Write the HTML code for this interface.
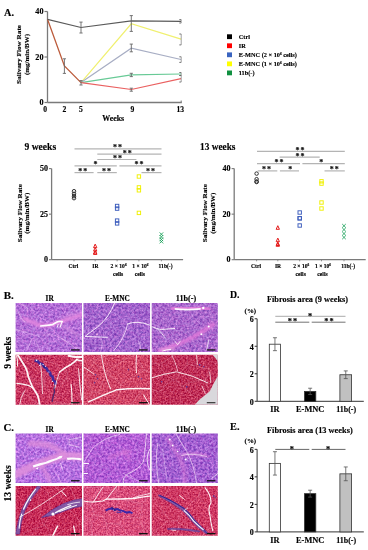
<!DOCTYPE html>
<html><head><meta charset="utf-8"><style>
html,body{margin:0;padding:0;background:#fff;width:368px;height:550px;overflow:hidden}
svg{position:absolute;left:0;top:0;display:block}
text{font-family:'Liberation Serif','Times New Roman',serif;font-weight:bold;stroke:#000;stroke-width:0.14px}
</style></head><body>
<svg width="368" height="550" viewBox="0 0 368 550">
<defs>
<filter id="bl" x="-20%" y="-20%" width="140%" height="140%"><feGaussianBlur stdDeviation="0.5"/></filter>
<filter id="bl2" x="-30%" y="-30%" width="160%" height="160%"><feGaussianBlur stdDeviation="1.0"/></filter>
<clipPath id="hc1"><rect x="15.6" y="303.0" width="66.4" height="49.1"/></clipPath><filter id="tx1" x="0" y="0" width="100%" height="100%" color-interpolation-filters="sRGB"><feTurbulence type="fractalNoise" baseFrequency="0.45" numOctaves="3" seed="7"/><feColorMatrix type="matrix" values="0.55 0.15 0 0 0.348  0.55 -0.05 0 0 0.174  0.35 0.0 0 0 0.664  0 0 0 0 1"/></filter><clipPath id="hc2"><rect x="83.5" y="303.0" width="66.55" height="49.1"/></clipPath><filter id="tx2" x="0" y="0" width="100%" height="100%" color-interpolation-filters="sRGB"><feTurbulence type="fractalNoise" baseFrequency="0.45" numOctaves="3" seed="14"/><feColorMatrix type="matrix" values="0.55 0.15 0 0 0.285  0.55 -0.05 0 0 0.134  0.35 0.0 0 0 0.625  0 0 0 0 1"/></filter><clipPath id="hc3"><rect x="151.7" y="303.0" width="66.1" height="49.1"/></clipPath><filter id="tx3" x="0" y="0" width="100%" height="100%" color-interpolation-filters="sRGB"><feTurbulence type="fractalNoise" baseFrequency="0.45" numOctaves="3" seed="21"/><feColorMatrix type="matrix" values="0.55 0.15 0 0 0.309  0.55 -0.05 0 0 0.150  0.35 0.0 0 0 0.625  0 0 0 0 1"/></filter><clipPath id="hc4"><rect x="15.6" y="354.8" width="66.4" height="50.0"/></clipPath><filter id="tx4" x="0" y="0" width="100%" height="100%" color-interpolation-filters="sRGB"><feTurbulence type="fractalNoise" baseFrequency="0.6" numOctaves="3" seed="28"/><feColorMatrix type="matrix" values="0.45 0.1 0 0 0.509  0.62 0.0 0 0 -0.098  0.5 -0.08 0 0 0.163  0 0 0 0 1"/></filter><clipPath id="hc5"><rect x="83.5" y="354.8" width="66.55" height="50.0"/></clipPath><filter id="tx5" x="0" y="0" width="100%" height="100%" color-interpolation-filters="sRGB"><feTurbulence type="fractalNoise" baseFrequency="0.6" numOctaves="3" seed="35"/><feColorMatrix type="matrix" values="0.45 0.1 0 0 0.541  0.62 0.0 0 0 -0.043  0.5 -0.08 0 0 0.190  0 0 0 0 1"/></filter><clipPath id="hc6"><rect x="151.7" y="354.8" width="66.1" height="50.0"/></clipPath><filter id="tx6" x="0" y="0" width="100%" height="100%" color-interpolation-filters="sRGB"><feTurbulence type="fractalNoise" baseFrequency="0.6" numOctaves="3" seed="42"/><feColorMatrix type="matrix" values="0.45 0.1 0 0 0.478  0.62 0.0 0 0 -0.122  0.5 -0.08 0 0 0.135  0 0 0 0 1"/></filter><clipPath id="hc7"><rect x="15.6" y="433.5" width="66.4" height="49.4"/></clipPath><filter id="tx7" x="0" y="0" width="100%" height="100%" color-interpolation-filters="sRGB"><feTurbulence type="fractalNoise" baseFrequency="0.45" numOctaves="3" seed="49"/><feColorMatrix type="matrix" values="0.55 0.15 0 0 0.360  0.55 -0.05 0 0 0.185  0.35 0.0 0 0 0.700  0 0 0 0 1"/></filter><clipPath id="hc8"><rect x="83.5" y="433.5" width="66.55" height="49.4"/></clipPath><filter id="tx8" x="0" y="0" width="100%" height="100%" color-interpolation-filters="sRGB"><feTurbulence type="fractalNoise" baseFrequency="0.45" numOctaves="3" seed="56"/><feColorMatrix type="matrix" values="0.55 0.15 0 0 0.344  0.55 -0.05 0 0 0.111  0.35 0.0 0 0 0.660  0 0 0 0 1"/></filter><clipPath id="hc9"><rect x="151.7" y="433.5" width="66.1" height="49.4"/></clipPath><filter id="tx9" x="0" y="0" width="100%" height="100%" color-interpolation-filters="sRGB"><feTurbulence type="fractalNoise" baseFrequency="0.45" numOctaves="3" seed="63"/><feColorMatrix type="matrix" values="0.55 0.15 0 0 0.285  0.55 -0.05 0 0 0.119  0.35 0.0 0 0 0.641  0 0 0 0 1"/></filter><clipPath id="hc10"><rect x="15.6" y="486.1" width="66.4" height="49.7"/></clipPath><filter id="tx10" x="0" y="0" width="100%" height="100%" color-interpolation-filters="sRGB"><feTurbulence type="fractalNoise" baseFrequency="0.6" numOctaves="3" seed="70"/><feColorMatrix type="matrix" values="0.45 0.1 0 0 0.501  0.62 0.0 0 0 -0.137  0.5 -0.08 0 0 0.135  0 0 0 0 1"/></filter><clipPath id="hc11"><rect x="83.5" y="486.1" width="66.55" height="49.7"/></clipPath><filter id="tx11" x="0" y="0" width="100%" height="100%" color-interpolation-filters="sRGB"><feTurbulence type="fractalNoise" baseFrequency="0.6" numOctaves="3" seed="77"/><feColorMatrix type="matrix" values="0.45 0.1 0 0 0.572  0.62 0.0 0 0 -0.012  0.5 -0.08 0 0 0.268  0 0 0 0 1"/></filter><clipPath id="hc12"><rect x="151.7" y="486.1" width="66.1" height="49.7"/></clipPath><filter id="tx12" x="0" y="0" width="100%" height="100%" color-interpolation-filters="sRGB"><feTurbulence type="fractalNoise" baseFrequency="0.6" numOctaves="3" seed="84"/><feColorMatrix type="matrix" values="0.45 0.1 0 0 0.533  0.62 0.0 0 0 -0.083  0.5 -0.08 0 0 0.182  0 0 0 0 1"/></filter></defs>
<text x="4" y="15.7" font-size="9.6" text-anchor="start" fill="#000" textLength="10" lengthAdjust="spacingAndGlyphs" >A.</text>
<line x1="47.5" y1="11.5" x2="47.5" y2="102.5" stroke="#7a7a7a" stroke-width="1.3" />
<line x1="47.5" y1="102.5" x2="181.8" y2="102.5" stroke="#7a7a7a" stroke-width="1.3" />
<line x1="44.5" y1="102.5" x2="47.5" y2="102.5" stroke="#7a7a7a" stroke-width="1.2" />
<text x="43.5" y="105.2" font-size="8.2" text-anchor="end" fill="#000" >0</text>
<line x1="44.5" y1="57.0" x2="47.5" y2="57.0" stroke="#7a7a7a" stroke-width="1.2" />
<text x="43.5" y="59.7" font-size="8.2" text-anchor="end" fill="#000" >20</text>
<line x1="44.5" y1="11.5" x2="47.5" y2="11.5" stroke="#7a7a7a" stroke-width="1.2" />
<text x="43.5" y="14.2" font-size="8.2" text-anchor="end" fill="#000" >40</text>
<line x1="181.2" y1="102.5" x2="181.2" y2="100.5" stroke="#7a7a7a" stroke-width="1.0" />
<text x="45.2" y="112.3" font-size="7.6" text-anchor="middle" fill="#000" >0</text>
<text x="64.4" y="112.3" font-size="7.6" text-anchor="middle" fill="#000" >2</text>
<text x="81.0" y="112.3" font-size="7.6" text-anchor="middle" fill="#000" >5</text>
<text x="132.3" y="112.3" font-size="7.6" text-anchor="middle" fill="#000" >9</text>
<text x="180.2" y="112.3" font-size="7.6" text-anchor="middle" fill="#000" >13</text>
<text x="113.2" y="120.5" font-size="7.9" text-anchor="middle" fill="#000" textLength="22" lengthAdjust="spacingAndGlyphs" >Weeks</text>
<g transform="translate(19.5,54.5) rotate(-90)">
<text x="0" y="1.8" font-size="6.4" text-anchor="middle" fill="#000" textLength="59" lengthAdjust="spacingAndGlyphs" >Salivary Flow Rate</text>
<text x="0" y="9.2" font-size="6.4" text-anchor="middle" fill="#000" textLength="41" lengthAdjust="spacingAndGlyphs" >(mg/min/BW)</text>
</g>
<clipPath id="clipA"><rect x="0" y="0" width="181.6" height="110"/></clipPath>
<g clip-path="url(#clipA)">
<polyline points="81.0,82.6 131.3,23.8 181.0,39.1" fill="none" stroke="#f0f070" stroke-width="1.2"/>
<polyline points="81.0,82.6 131.3,48.2 181.0,59.5" fill="none" stroke="#a8aec4" stroke-width="1.2"/>
<polyline points="81.0,82.6 131.3,74.9 181.0,74.0" fill="none" stroke="#68ca96" stroke-width="1.2"/>
<polyline points="81.0,82.6 131.3,89.5 181.0,78.6" fill="none" stroke="#ea6060" stroke-width="1.2"/>
<polyline points="47.5,19.3 64.4,66.0 81.0,82.6" fill="none" stroke="#bc5c3c" stroke-width="1.3"/>
<polyline points="47.5,19.3 81.0,27.5 131.3,20.9 181.0,21.3" fill="none" stroke="#5a5a5a" stroke-width="1.2"/>
<line x1="64.4" y1="58.8" x2="64.4" y2="73.4" stroke="#666" stroke-width="0.9" />
<line x1="62.800000000000004" y1="58.8" x2="66.0" y2="58.8" stroke="#666" stroke-width="0.9" />
<line x1="62.800000000000004" y1="73.4" x2="66.0" y2="73.4" stroke="#666" stroke-width="0.9" />
<line x1="81.0" y1="80.6" x2="81.0" y2="85.0" stroke="#666" stroke-width="0.9" />
<line x1="79.4" y1="80.6" x2="82.6" y2="80.6" stroke="#666" stroke-width="0.9" />
<line x1="79.4" y1="85.0" x2="82.6" y2="85.0" stroke="#666" stroke-width="0.9" />
<line x1="81.0" y1="22.1" x2="81.0" y2="33.0" stroke="#666" stroke-width="0.9" />
<line x1="79.4" y1="22.1" x2="82.6" y2="22.1" stroke="#666" stroke-width="0.9" />
<line x1="79.4" y1="33.0" x2="82.6" y2="33.0" stroke="#666" stroke-width="0.9" />
<line x1="131.3" y1="15.6" x2="131.3" y2="31.4" stroke="#666" stroke-width="0.9" />
<line x1="129.70000000000002" y1="15.6" x2="132.9" y2="15.6" stroke="#666" stroke-width="0.9" />
<line x1="129.70000000000002" y1="31.4" x2="132.9" y2="31.4" stroke="#666" stroke-width="0.9" />
<line x1="131.3" y1="44.1" x2="131.3" y2="51.8" stroke="#666" stroke-width="0.9" />
<line x1="129.70000000000002" y1="44.1" x2="132.9" y2="44.1" stroke="#666" stroke-width="0.9" />
<line x1="129.70000000000002" y1="51.8" x2="132.9" y2="51.8" stroke="#666" stroke-width="0.9" />
<line x1="131.3" y1="73.3" x2="131.3" y2="76.6" stroke="#666" stroke-width="0.9" />
<line x1="129.70000000000002" y1="73.3" x2="132.9" y2="73.3" stroke="#666" stroke-width="0.9" />
<line x1="129.70000000000002" y1="76.6" x2="132.9" y2="76.6" stroke="#666" stroke-width="0.9" />
<line x1="131.3" y1="88.2" x2="131.3" y2="91.2" stroke="#666" stroke-width="0.9" />
<line x1="129.70000000000002" y1="88.2" x2="132.9" y2="88.2" stroke="#666" stroke-width="0.9" />
<line x1="129.70000000000002" y1="91.2" x2="132.9" y2="91.2" stroke="#666" stroke-width="0.9" />
<line x1="181.3" y1="34" x2="181.3" y2="44.9" stroke="#666" stroke-width="0.9" />
<line x1="179.3" y1="34" x2="181.3" y2="34" stroke="#666" stroke-width="0.9" />
<line x1="179.3" y1="44.9" x2="181.3" y2="44.9" stroke="#666" stroke-width="0.9" />
<line x1="181.3" y1="56.8" x2="181.3" y2="62.4" stroke="#666" stroke-width="0.9" />
<line x1="179.3" y1="56.8" x2="181.3" y2="56.8" stroke="#666" stroke-width="0.9" />
<line x1="179.3" y1="62.4" x2="181.3" y2="62.4" stroke="#666" stroke-width="0.9" />
<line x1="181.3" y1="72.5" x2="181.3" y2="75.5" stroke="#666" stroke-width="0.9" />
<line x1="179.3" y1="72.5" x2="181.3" y2="72.5" stroke="#666" stroke-width="0.9" />
<line x1="179.3" y1="75.5" x2="181.3" y2="75.5" stroke="#666" stroke-width="0.9" />
<line x1="181.3" y1="75.5" x2="181.3" y2="82.0" stroke="#666" stroke-width="0.9" />
<line x1="179.3" y1="75.5" x2="181.3" y2="75.5" stroke="#666" stroke-width="0.9" />
<line x1="179.3" y1="82.0" x2="181.3" y2="82.0" stroke="#666" stroke-width="0.9" />
<line x1="181.3" y1="19.6" x2="181.3" y2="23.0" stroke="#666" stroke-width="0.9" />
<line x1="179.3" y1="19.6" x2="181.3" y2="19.6" stroke="#666" stroke-width="0.9" />
<line x1="179.3" y1="23.0" x2="181.3" y2="23.0" stroke="#666" stroke-width="0.9" />
</g>
<rect x="227" y="34.30" width="5" height="4.8" fill="#000000"/>
<text x="238.8" y="38.900000000000006" font-size="6.3" text-anchor="start" fill="#000" >Ctrl</text>
<rect x="227" y="43.35" width="5" height="4.8" fill="#ff0000"/>
<text x="238.8" y="47.95" font-size="6.3" text-anchor="start" fill="#000" >IR</text>
<rect x="227" y="52.40" width="5" height="4.8" fill="#3a64c0"/>
<text x="238.8" y="57.00000000000001" font-size="6.3" text-anchor="start" fill="#000" >E-MNC (2 × 10<tspan font-size="3.4" dy="-2.4">6</tspan><tspan dy="2.4"> cells)</tspan></text>
<rect x="227" y="61.45" width="5" height="4.8" fill="#ffff00"/>
<text x="238.8" y="66.05000000000001" font-size="6.3" text-anchor="start" fill="#000" >E-MNC (1 × 10<tspan font-size="3.4" dy="-2.4">6</tspan><tspan dy="2.4"> cells)</tspan></text>
<rect x="227" y="70.50" width="5" height="4.8" fill="#109040"/>
<text x="238.8" y="75.10000000000001" font-size="6.3" text-anchor="start" fill="#000" >11b(-)</text>
<text x="24.5" y="149.5" font-size="9.7" text-anchor="start" fill="#000" textLength="31.7" lengthAdjust="spacingAndGlyphs" >9 weeks</text>
<line x1="51.6" y1="168.6" x2="51.6" y2="259.7" stroke="#7a7a7a" stroke-width="1.3" />
<line x1="51.6" y1="259.7" x2="183.1" y2="259.7" stroke="#7a7a7a" stroke-width="1.3" />
<line x1="49.0" y1="259.7" x2="51.6" y2="259.7" stroke="#7a7a7a" stroke-width="1.1" />
<text x="47.9" y="262.4" font-size="8.0" text-anchor="end" fill="#000" >0</text>
<line x1="49.0" y1="214.14999999999998" x2="51.6" y2="214.14999999999998" stroke="#7a7a7a" stroke-width="1.1" />
<text x="47.9" y="216.84999999999997" font-size="8.0" text-anchor="end" fill="#000" >25</text>
<line x1="49.0" y1="168.6" x2="51.6" y2="168.6" stroke="#7a7a7a" stroke-width="1.1" />
<text x="47.9" y="171.29999999999998" font-size="8.0" text-anchor="end" fill="#000" >50</text>
<line x1="74.0" y1="259.7" x2="74.0" y2="261.3" stroke="#7a7a7a" stroke-width="0.8" />
<line x1="95.2" y1="259.7" x2="95.2" y2="261.3" stroke="#7a7a7a" stroke-width="0.8" />
<line x1="117.1" y1="259.7" x2="117.1" y2="261.3" stroke="#7a7a7a" stroke-width="0.8" />
<line x1="138.9" y1="259.7" x2="138.9" y2="261.3" stroke="#7a7a7a" stroke-width="0.8" />
<line x1="161.4" y1="259.7" x2="161.4" y2="261.3" stroke="#7a7a7a" stroke-width="0.8" />
<g transform="translate(19.9,213.2) rotate(-90)">
<text x="0" y="1.8" font-size="6.4" text-anchor="middle" fill="#000" textLength="58" lengthAdjust="spacingAndGlyphs" >Salivary Flow Rate</text>
<text x="0" y="9.2" font-size="6.4" text-anchor="middle" fill="#000" textLength="41" lengthAdjust="spacingAndGlyphs" >(mg/min/BW)</text>
</g>
<text x="73.4" y="268.1" font-size="5.6" text-anchor="middle" fill="#000" >Ctrl</text>
<text x="95.4" y="268.1" font-size="5.6" text-anchor="middle" fill="#000" >IR</text>
<text x="118.6" y="268.1" font-size="5.6" text-anchor="middle" fill="#000" >2 × 10<tspan font-size="3.4" dy="-2">6</tspan></text>
<text x="118.1" y="275.9" font-size="5.6" text-anchor="middle" fill="#000" >cells</text>
<text x="140.4" y="268.1" font-size="5.6" text-anchor="middle" fill="#000" >1 × 10<tspan font-size="3.4" dy="-2">6</tspan></text>
<text x="139.9" y="275.9" font-size="5.6" text-anchor="middle" fill="#000" >cells</text>
<text x="165.6" y="268.1" font-size="5.6" text-anchor="middle" fill="#000" >11b(-)</text>
<circle cx="74.0" cy="191.2" r="1.75" fill="none" stroke="#2a2a2a" stroke-width="0.95"/>
<circle cx="74.0" cy="193.8" r="1.75" fill="none" stroke="#2a2a2a" stroke-width="0.95"/>
<circle cx="74.0" cy="196.2" r="1.75" fill="none" stroke="#2a2a2a" stroke-width="0.95"/>
<circle cx="74.0" cy="198.2" r="1.75" fill="none" stroke="#2a2a2a" stroke-width="0.95"/>
<polygon points="95.2,244.1 96.85000000000001,247.7 93.55,247.7" fill="none" stroke="#e41c1c" stroke-width="1.0" stroke-linejoin="round"/>
<polygon points="95.2,247.5 96.85000000000001,251.1 93.55,251.1" fill="none" stroke="#e41c1c" stroke-width="1.0" stroke-linejoin="round"/>
<polygon points="95.2,250.8 96.85000000000001,254.4 93.55,254.4" fill="none" stroke="#e41c1c" stroke-width="1.0" stroke-linejoin="round"/>
<polygon points="95.2,250.4 96.85000000000001,254.0 93.55,254.0" fill="none" stroke="#e41c1c" stroke-width="1.0" stroke-linejoin="round"/>
<rect x="115.39999999999999" y="204.3" width="3.4" height="3.4" fill="none" stroke="#3c5cbc" stroke-width="0.95"/>
<rect x="115.39999999999999" y="206.9" width="3.4" height="3.4" fill="none" stroke="#3c5cbc" stroke-width="0.95"/>
<rect x="115.39999999999999" y="218.9" width="3.4" height="3.4" fill="none" stroke="#3c5cbc" stroke-width="0.95"/>
<rect x="115.39999999999999" y="221.70000000000002" width="3.4" height="3.4" fill="none" stroke="#3c5cbc" stroke-width="0.95"/>
<rect x="137.20000000000002" y="174.8" width="3.4" height="3.4" fill="none" stroke="#f0f000" stroke-width="0.95"/>
<rect x="137.20000000000002" y="185.70000000000002" width="3.4" height="3.4" fill="none" stroke="#f0f000" stroke-width="0.95"/>
<rect x="137.20000000000002" y="188.60000000000002" width="3.4" height="3.4" fill="none" stroke="#f0f000" stroke-width="0.95"/>
<rect x="137.20000000000002" y="211.20000000000002" width="3.4" height="3.4" fill="none" stroke="#f0f000" stroke-width="0.95"/>
<path d="M159.6,232.39999999999998L163.20000000000002,236.0M163.20000000000002,232.39999999999998L159.6,236.0" stroke="#18a058" stroke-width="0.85"/>
<path d="M159.6,235.1L163.20000000000002,238.70000000000002M163.20000000000002,235.1L159.6,238.70000000000002" stroke="#18a058" stroke-width="0.85"/>
<path d="M159.6,237.6L163.20000000000002,241.20000000000002M163.20000000000002,237.6L159.6,241.20000000000002" stroke="#18a058" stroke-width="0.85"/>
<path d="M159.6,239.79999999999998L163.20000000000002,243.4M163.20000000000002,239.79999999999998L159.6,243.4" stroke="#18a058" stroke-width="0.85"/>
<line x1="74.5" y1="148.9" x2="161.5" y2="148.9" stroke="#b4b4b4" stroke-width="1.2" />
<text x="118.0" y="150.4" font-size="8.0" text-anchor="middle" fill="#111" letter-spacing="1.0">**</text>
<line x1="97.30000000000001" y1="154.1" x2="161.5" y2="154.1" stroke="#b4b4b4" stroke-width="1.2" />
<text x="127.80000000000001" y="155.6" font-size="8.0" text-anchor="middle" fill="#111" letter-spacing="1.0">**</text>
<line x1="97.30000000000001" y1="159.5" x2="136.4" y2="159.5" stroke="#b4b4b4" stroke-width="1.2" />
<text x="118.0" y="161.0" font-size="8.0" text-anchor="middle" fill="#111" letter-spacing="1.0">**</text>
<line x1="74.5" y1="165.9" x2="116.80000000000001" y2="165.9" stroke="#b4b4b4" stroke-width="1.2" />
<text x="96.1" y="167.4" font-size="8.0" text-anchor="middle" fill="#111" letter-spacing="1.0">*</text>
<line x1="119.4" y1="165.9" x2="161.5" y2="165.9" stroke="#b4b4b4" stroke-width="1.2" />
<text x="139.5" y="167.4" font-size="8.0" text-anchor="middle" fill="#111" letter-spacing="1.0">**</text>
<line x1="74.5" y1="172.6" x2="93.6" y2="172.6" stroke="#b4b4b4" stroke-width="1.2" />
<text x="83.2" y="174.1" font-size="8.0" text-anchor="middle" fill="#111" letter-spacing="1.0">**</text>
<line x1="97.30000000000001" y1="172.6" x2="116.80000000000001" y2="172.6" stroke="#b4b4b4" stroke-width="1.2" />
<text x="107.1" y="174.1" font-size="8.0" text-anchor="middle" fill="#111" letter-spacing="1.0">**</text>
<line x1="141.5" y1="172.6" x2="161.5" y2="172.6" stroke="#b4b4b4" stroke-width="1.2" />
<text x="151.1" y="174.1" font-size="8.0" text-anchor="middle" fill="#111" letter-spacing="1.0">**</text>
<text x="200.0" y="149.5" font-size="9.7" text-anchor="start" fill="#000" textLength="35.5" lengthAdjust="spacingAndGlyphs" >13 weeks</text>
<line x1="234.2" y1="168.6" x2="234.2" y2="259.7" stroke="#7a7a7a" stroke-width="1.3" />
<line x1="234.2" y1="259.7" x2="365.7" y2="259.7" stroke="#7a7a7a" stroke-width="1.3" />
<line x1="231.6" y1="259.7" x2="234.2" y2="259.7" stroke="#7a7a7a" stroke-width="1.1" />
<text x="230.5" y="262.4" font-size="8.0" text-anchor="end" fill="#000" >0</text>
<line x1="231.6" y1="214.14999999999998" x2="234.2" y2="214.14999999999998" stroke="#7a7a7a" stroke-width="1.1" />
<text x="230.5" y="216.84999999999997" font-size="8.0" text-anchor="end" fill="#000" >20</text>
<line x1="231.6" y1="168.6" x2="234.2" y2="168.6" stroke="#7a7a7a" stroke-width="1.1" />
<text x="230.5" y="171.29999999999998" font-size="8.0" text-anchor="end" fill="#000" >40</text>
<line x1="256.59999999999997" y1="259.7" x2="256.59999999999997" y2="261.3" stroke="#7a7a7a" stroke-width="0.8" />
<line x1="277.8" y1="259.7" x2="277.8" y2="261.3" stroke="#7a7a7a" stroke-width="0.8" />
<line x1="299.7" y1="259.7" x2="299.7" y2="261.3" stroke="#7a7a7a" stroke-width="0.8" />
<line x1="321.5" y1="259.7" x2="321.5" y2="261.3" stroke="#7a7a7a" stroke-width="0.8" />
<line x1="344.0" y1="259.7" x2="344.0" y2="261.3" stroke="#7a7a7a" stroke-width="0.8" />
<g transform="translate(205.6,213.2) rotate(-90)">
<text x="0" y="1.8" font-size="6.4" text-anchor="middle" fill="#000" textLength="58" lengthAdjust="spacingAndGlyphs" >Salivary Flow Rate</text>
<text x="0" y="9.2" font-size="6.4" text-anchor="middle" fill="#000" textLength="41" lengthAdjust="spacingAndGlyphs" >(mg/min/BW)</text>
</g>
<text x="255.99999999999997" y="268.1" font-size="5.6" text-anchor="middle" fill="#000" >Ctrl</text>
<text x="278.0" y="268.1" font-size="5.6" text-anchor="middle" fill="#000" >IR</text>
<text x="301.2" y="268.1" font-size="5.6" text-anchor="middle" fill="#000" >2 × 10<tspan font-size="3.4" dy="-2">6</tspan></text>
<text x="300.7" y="275.9" font-size="5.6" text-anchor="middle" fill="#000" >cells</text>
<text x="323.0" y="268.1" font-size="5.6" text-anchor="middle" fill="#000" >1 × 10<tspan font-size="3.4" dy="-2">6</tspan></text>
<text x="322.5" y="275.9" font-size="5.6" text-anchor="middle" fill="#000" >cells</text>
<text x="348.2" y="268.1" font-size="5.6" text-anchor="middle" fill="#000" >11b(-)</text>
<circle cx="256.59999999999997" cy="173.6" r="1.75" fill="none" stroke="#2a2a2a" stroke-width="0.95"/>
<circle cx="256.59999999999997" cy="179.2" r="1.75" fill="none" stroke="#2a2a2a" stroke-width="0.95"/>
<circle cx="256.59999999999997" cy="182.0" r="1.75" fill="none" stroke="#2a2a2a" stroke-width="0.95"/>
<circle cx="256.59999999999997" cy="181.5" r="1.75" fill="none" stroke="#2a2a2a" stroke-width="0.95"/>
<polygon points="277.8,225.70000000000002 279.45,229.3 276.15000000000003,229.3" fill="none" stroke="#e41c1c" stroke-width="1.0" stroke-linejoin="round"/>
<polygon points="277.8,238.1 279.45,241.7 276.15000000000003,241.7" fill="none" stroke="#e41c1c" stroke-width="1.0" stroke-linejoin="round"/>
<polygon points="277.8,242.70000000000002 279.45,246.3 276.15000000000003,246.3" fill="none" stroke="#e41c1c" stroke-width="1.0" stroke-linejoin="round"/>
<polygon points="277.8,241.9 279.45,245.5 276.15000000000003,245.5" fill="none" stroke="#e41c1c" stroke-width="1.0" stroke-linejoin="round"/>
<rect x="298.0" y="210.8" width="3.4" height="3.4" fill="none" stroke="#3c5cbc" stroke-width="0.95"/>
<rect x="298.0" y="216.60000000000002" width="3.4" height="3.4" fill="none" stroke="#3c5cbc" stroke-width="0.95"/>
<rect x="298.0" y="223.8" width="3.4" height="3.4" fill="none" stroke="#3c5cbc" stroke-width="0.95"/>
<rect x="298.0" y="216.60000000000002" width="3.4" height="3.4" fill="none" stroke="#3c5cbc" stroke-width="0.95"/>
<rect x="319.8" y="179.60000000000002" width="3.4" height="3.4" fill="none" stroke="#f0f000" stroke-width="0.95"/>
<rect x="319.8" y="181.9" width="3.4" height="3.4" fill="none" stroke="#f0f000" stroke-width="0.95"/>
<rect x="319.8" y="200.8" width="3.4" height="3.4" fill="none" stroke="#f0f000" stroke-width="0.95"/>
<rect x="319.8" y="206.8" width="3.4" height="3.4" fill="none" stroke="#f0f000" stroke-width="0.95"/>
<path d="M342.2,224.0L345.8,227.60000000000002M345.8,224.0L342.2,227.60000000000002" stroke="#18a058" stroke-width="0.85"/>
<path d="M342.2,227.79999999999998L345.8,231.4M345.8,227.79999999999998L342.2,231.4" stroke="#18a058" stroke-width="0.85"/>
<path d="M342.2,231.79999999999998L345.8,235.4M345.8,231.79999999999998L342.2,235.4" stroke="#18a058" stroke-width="0.85"/>
<path d="M342.2,235.6L345.8,239.20000000000002M345.8,235.6L342.2,239.20000000000002" stroke="#18a058" stroke-width="0.85"/>
<line x1="257.0" y1="151.3" x2="344.79999999999995" y2="151.3" stroke="#b4b4b4" stroke-width="1.2" />
<text x="300.5" y="152.8" font-size="8.0" text-anchor="middle" fill="#111" letter-spacing="1.0">**</text>
<line x1="279.59999999999997" y1="157.2" x2="319.7" y2="157.2" stroke="#b4b4b4" stroke-width="1.2" />
<text x="300.5" y="158.7" font-size="8.0" text-anchor="middle" fill="#111" letter-spacing="1.0">**</text>
<line x1="257.0" y1="163.6" x2="300.0" y2="163.6" stroke="#b4b4b4" stroke-width="1.2" />
<text x="279.5" y="165.1" font-size="8.0" text-anchor="middle" fill="#111" letter-spacing="1.0">**</text>
<line x1="302.4" y1="163.6" x2="344.79999999999995" y2="163.6" stroke="#b4b4b4" stroke-width="1.2" />
<text x="321.79999999999995" y="165.1" font-size="8.0" text-anchor="middle" fill="#111" letter-spacing="1.0">*</text>
<line x1="257.7" y1="170.9" x2="277.3" y2="170.9" stroke="#b4b4b4" stroke-width="1.2" />
<text x="267.0" y="172.4" font-size="8.0" text-anchor="middle" fill="#111" letter-spacing="1.0">**</text>
<line x1="279.9" y1="170.9" x2="299.0" y2="170.9" stroke="#b4b4b4" stroke-width="1.2" />
<text x="290.8" y="172.4" font-size="8.0" text-anchor="middle" fill="#111" letter-spacing="1.0">*</text>
<line x1="324.5" y1="170.9" x2="344.79999999999995" y2="170.9" stroke="#b4b4b4" stroke-width="1.2" />
<text x="334.79999999999995" y="172.4" font-size="8.0" text-anchor="middle" fill="#111" letter-spacing="1.0">**</text>
<text x="230" y="298.1" font-size="9.6" text-anchor="start" fill="#000" textLength="9.5" lengthAdjust="spacingAndGlyphs" >D.</text>
<text x="267" y="302" font-size="8.3" text-anchor="start" fill="#000" textLength="81" lengthAdjust="spacingAndGlyphs" >Fibrosis area (9 weeks)</text>
<text x="244.6" y="312.6" font-size="6.6" text-anchor="start" fill="#000" textLength="11.6" lengthAdjust="spacingAndGlyphs" >(%)</text>
<line x1="257.1" y1="318.75" x2="257.1" y2="401.3" stroke="#333" stroke-width="1.0" />
<line x1="257.1" y1="401.3" x2="363.8" y2="401.3" stroke="#333" stroke-width="1.0" />
<line x1="254.70000000000002" y1="401.3" x2="257.1" y2="401.3" stroke="#333" stroke-width="1.0" />
<text x="253.8" y="404.7" font-size="8.0" text-anchor="end" fill="#000" >0</text>
<line x1="254.70000000000002" y1="373.78333333333336" x2="257.1" y2="373.78333333333336" stroke="#333" stroke-width="1.0" />
<text x="253.8" y="377.18333333333334" font-size="8.0" text-anchor="end" fill="#000" >2</text>
<line x1="254.70000000000002" y1="346.26666666666665" x2="257.1" y2="346.26666666666665" stroke="#333" stroke-width="1.0" />
<text x="253.8" y="349.66666666666663" font-size="8.0" text-anchor="end" fill="#000" >4</text>
<line x1="254.70000000000002" y1="318.75" x2="257.1" y2="318.75" stroke="#333" stroke-width="1.0" />
<text x="253.8" y="322.15" font-size="8.0" text-anchor="end" fill="#000" >6</text>
<rect x="269.3" y="344.20" width="11.30" height="57.10" fill="#ffffff" stroke="#333" stroke-width="0.8"/>
<line x1="274.95000000000005" y1="337.7365" x2="274.95000000000005" y2="350.6693333333333" stroke="#555" stroke-width="0.8" />
<line x1="272.95000000000005" y1="337.7365" x2="276.95000000000005" y2="337.7365" stroke="#555" stroke-width="0.8" />
<line x1="272.95000000000005" y1="350.6693333333333" x2="276.95000000000005" y2="350.6693333333333" stroke="#555" stroke-width="0.8" />
<rect x="304.5" y="391.39" width="11.30" height="9.91" fill="#000000" stroke="#333" stroke-width="0.8"/>
<line x1="310.15" y1="388.2295833333333" x2="310.15" y2="394.5584166666667" stroke="#555" stroke-width="0.8" />
<line x1="308.15" y1="388.2295833333333" x2="312.15" y2="388.2295833333333" stroke="#555" stroke-width="0.8" />
<line x1="308.15" y1="394.5584166666667" x2="312.15" y2="394.5584166666667" stroke="#555" stroke-width="0.8" />
<rect x="339.9" y="374.75" width="11.70" height="26.55" fill="#c0c0c0" stroke="#333" stroke-width="0.8"/>
<line x1="345.75" y1="370.89408333333336" x2="345.75" y2="378.59875" stroke="#555" stroke-width="0.8" />
<line x1="343.75" y1="370.89408333333336" x2="347.75" y2="370.89408333333336" stroke="#555" stroke-width="0.8" />
<line x1="343.75" y1="378.59875" x2="347.75" y2="378.59875" stroke="#555" stroke-width="0.8" />
<text x="275.0" y="412.3" font-size="8.3" text-anchor="middle" fill="#000" textLength="9.3" lengthAdjust="spacingAndGlyphs" >IR</text>
<text x="310.2" y="412.3" font-size="8.3" text-anchor="middle" fill="#000" textLength="28.3" lengthAdjust="spacingAndGlyphs" >E-MNC</text>
<text x="346.2" y="412.3" font-size="8.3" text-anchor="middle" fill="#000" textLength="19.9" lengthAdjust="spacingAndGlyphs" >11b(-)</text>
<line x1="275.3" y1="316.4" x2="345.5" y2="316.4" stroke="#bbb" stroke-width="1.4" />
<text x="310.5" y="318.59999999999997" font-size="8.4" text-anchor="middle" fill="#000" letter-spacing="1.0">*</text>
<line x1="275.3" y1="322.2" x2="309.3" y2="322.2" stroke="#444" stroke-width="0.75" />
<text x="292.9" y="324.4" font-size="8.4" text-anchor="middle" fill="#000" letter-spacing="1.0">**</text>
<line x1="311.7" y1="322.2" x2="345.5" y2="322.2" stroke="#444" stroke-width="0.75" />
<text x="329.4" y="324.4" font-size="8.4" text-anchor="middle" fill="#000" letter-spacing="1.0">**</text>
<text x="230" y="429.6" font-size="9.6" text-anchor="start" fill="#000" textLength="9.5" lengthAdjust="spacingAndGlyphs" >E.</text>
<text x="267" y="433.3" font-size="8.3" text-anchor="start" fill="#000" textLength="85.7" lengthAdjust="spacingAndGlyphs" >Fibrosis area (13 weeks)</text>
<text x="244.6" y="443.20000000000005" font-size="6.6" text-anchor="start" fill="#000" textLength="11.6" lengthAdjust="spacingAndGlyphs" >(%)</text>
<line x1="257.1" y1="449.35" x2="257.1" y2="531.9" stroke="#333" stroke-width="1.0" />
<line x1="257.1" y1="531.9" x2="363.8" y2="531.9" stroke="#333" stroke-width="1.0" />
<line x1="254.70000000000002" y1="531.9" x2="257.1" y2="531.9" stroke="#333" stroke-width="1.0" />
<text x="253.8" y="535.3" font-size="8.0" text-anchor="end" fill="#000" >0</text>
<line x1="254.70000000000002" y1="504.3833333333333" x2="257.1" y2="504.3833333333333" stroke="#333" stroke-width="1.0" />
<text x="253.8" y="507.7833333333333" font-size="8.0" text-anchor="end" fill="#000" >2</text>
<line x1="254.70000000000002" y1="476.8666666666667" x2="257.1" y2="476.8666666666667" stroke="#333" stroke-width="1.0" />
<text x="253.8" y="480.26666666666665" font-size="8.0" text-anchor="end" fill="#000" >4</text>
<line x1="254.70000000000002" y1="449.35" x2="257.1" y2="449.35" stroke="#333" stroke-width="1.0" />
<text x="253.8" y="452.75" font-size="8.0" text-anchor="end" fill="#000" >6</text>
<rect x="269.3" y="463.38" width="11.30" height="68.52" fill="#ffffff" stroke="#333" stroke-width="0.8"/>
<line x1="274.95000000000005" y1="451.68891666666667" x2="274.95000000000005" y2="475.0780833333333" stroke="#555" stroke-width="0.8" />
<line x1="272.95000000000005" y1="451.68891666666667" x2="276.95000000000005" y2="451.68891666666667" stroke="#555" stroke-width="0.8" />
<line x1="272.95000000000005" y1="475.0780833333333" x2="276.95000000000005" y2="475.0780833333333" stroke="#555" stroke-width="0.8" />
<rect x="304.5" y="493.65" width="11.30" height="38.25" fill="#000000" stroke="#333" stroke-width="0.8"/>
<line x1="310.15" y1="490.21225" x2="310.15" y2="497.09141666666665" stroke="#555" stroke-width="0.8" />
<line x1="308.15" y1="490.21225" x2="312.15" y2="490.21225" stroke="#555" stroke-width="0.8" />
<line x1="308.15" y1="497.09141666666665" x2="312.15" y2="497.09141666666665" stroke="#555" stroke-width="0.8" />
<rect x="339.9" y="473.84" width="11.70" height="58.06" fill="#c0c0c0" stroke="#333" stroke-width="0.8"/>
<line x1="345.75" y1="466.96066666666667" x2="345.75" y2="480.719" stroke="#555" stroke-width="0.8" />
<line x1="343.75" y1="466.96066666666667" x2="347.75" y2="466.96066666666667" stroke="#555" stroke-width="0.8" />
<line x1="343.75" y1="480.719" x2="347.75" y2="480.719" stroke="#555" stroke-width="0.8" />
<text x="275.0" y="542.9" font-size="8.3" text-anchor="middle" fill="#000" textLength="9.3" lengthAdjust="spacingAndGlyphs" >IR</text>
<text x="310.2" y="542.9" font-size="8.3" text-anchor="middle" fill="#000" textLength="28.3" lengthAdjust="spacingAndGlyphs" >E-MNC</text>
<text x="346.2" y="542.9" font-size="8.3" text-anchor="middle" fill="#000" textLength="19.9" lengthAdjust="spacingAndGlyphs" >11b(-)</text>
<line x1="275.3" y1="449.4" x2="309.3" y2="449.4" stroke="#333" stroke-width="0.75" />
<text x="292.4" y="451.59999999999997" font-size="8.4" text-anchor="middle" fill="#000" letter-spacing="1.0">*</text>
<line x1="311.7" y1="449.4" x2="345.5" y2="449.4" stroke="#333" stroke-width="0.75" />
<text x="328.6" y="451.59999999999997" font-size="8.4" text-anchor="middle" fill="#000" letter-spacing="1.0">*</text>
<g clip-path="url(#hc1)"><g transform="translate(15.6,303.0)">
<rect width="66.4" height="49.1" fill="#b26cd6" filter="url(#tx1)"/>
<path d="M-4.9,29.1Q0.1,28.5 6.5,25.5M-7.9,0.4Q-0.8,3.4 5.7,11.3M6.5,25.5Q4.3,19.7 5.7,11.3M-7.9,0.4Q5.8,-2.5 17.4,-3.5M17.4,-3.5Q17.3,5.6 17.3,13.4M5.7,11.3Q12.2,13.7 17.3,13.4M103.1,49.8Q90.4,50.7 76.9,51.9M103.1,49.8Q84.3,47.6 66.3,42.2M76.9,51.9Q68.2,47.2 66.1,43.0M66.3,42.2Q66.3,40.5 66.1,43.0M63.2,54.9Q65.2,48.0 66.1,43.0M63.2,54.9Q71.4,53.2 76.9,51.9M64.9,38.3Q66.2,38.5 65.4,35.1M64.9,38.3Q66.2,38.9 66.3,42.2M65.4,35.1Q69.4,31.9 78.0,23.5M65.4,35.1Q58.6,30.5 52.2,28.0M78.0,23.5Q72.7,19.8 66.9,16.7M66.9,16.7Q60.8,22.2 52.1,27.5M52.1,27.5Q52.2,26.7 52.2,28.0M63.2,54.9Q61.0,57.4 57.4,63.0M64.9,38.3Q58.0,43.5 49.0,44.1M57.4,63.0Q50.9,49.9 49.0,44.1M45.6,40.4Q49.9,38.0 52.2,28.0M45.6,40.4Q44.5,39.3 46.3,42.1M49.0,44.1Q48.5,41.8 46.3,42.1M66.9,16.7Q64.5,14.0 63.6,12.4M63.0,1.1Q64.1,6.1 63.6,12.4M17.4,-3.5Q19.6,-4.3 20.9,-4.7M20.9,-4.7Q30.7,-37.3 43.1,-69.0M6.5,25.5Q6.4,27.2 9.2,28.8M17.3,13.4Q17.6,12.4 21.3,14.7M21.3,14.7Q22.3,21.1 18.9,27.8M9.2,28.8Q14.0,29.1 18.9,27.8M-4.9,29.1Q-2.7,33.5 0.9,38.5M-2.2,42.1Q-0.0,40.7 0.9,38.5M9.2,28.8Q6.2,34.6 6.7,38.0M0.9,38.5Q2.9,36.7 6.7,38.0M52.1,27.5Q47.2,22.6 45.1,18.9M63.6,12.4Q61.7,11.6 55.0,14.3M45.1,18.9Q50.3,13.4 55.0,14.3M33.8,39.7Q37.3,40.3 40.9,38.1M33.8,39.7Q32.6,33.0 32.2,28.2M40.9,38.1Q38.6,32.8 35.7,25.4M32.2,28.2Q34.9,29.7 35.7,25.4M31.4,40.8Q27.6,36.2 23.1,33.4M31.4,40.8Q32.4,40.1 33.8,39.7M23.1,33.4Q27.8,30.8 32.2,28.2M45.6,40.4Q43.5,36.7 40.9,38.1M38.1,18.2Q38.1,20.9 35.7,25.4M38.1,18.2Q38.1,18.8 41.7,17.4M45.1,18.9Q45.4,18.8 41.7,17.4M23.1,33.4Q23.2,32.0 22.9,33.4M38.1,18.2Q36.8,16.8 26.9,12.6M26.9,12.6Q22.4,12.5 21.3,14.7M22.9,33.4Q21.0,28.3 18.9,27.8M50.6,105.6Q45.1,76.7 39.1,49.2M18.3,84.0Q25.8,70.0 29.6,53.2M29.6,53.2Q27.9,51.0 34.3,48.8M39.1,49.2Q34.3,50.7 34.3,48.8M57.4,63.0Q54.3,85.1 50.6,105.6M46.3,42.1Q41.1,48.4 39.1,49.2M26.0,45.8Q31.7,42.0 31.3,41.4M26.0,45.8Q28.4,48.5 29.6,53.2M31.3,41.4Q32.8,43.2 34.3,48.8M31.4,40.8Q34.2,39.6 31.3,41.4M63.0,1.1Q57.2,-2.6 52.4,-7.8M55.0,14.3Q51.8,4.8 50.5,-4.0M52.4,-7.8Q50.6,-6.1 50.5,-4.0M43.1,-69.0Q43.4,-48.7 47.2,-27.1M52.4,-7.8Q49.5,-18.0 47.2,-27.1M41.7,17.4Q43.8,10.2 45.7,3.9M45.7,3.9Q49.2,-0.6 50.5,-4.0M27.4,6.7Q31.6,3.5 36.2,2.4M27.4,6.7Q26.3,3.3 26.9,3.7M26.9,3.7Q32.0,-3.0 35.6,-6.2M36.2,2.4Q34.8,-1.4 35.6,-6.2M26.9,12.6Q27.7,9.0 27.4,6.7M45.7,3.9Q37.9,3.8 36.2,2.4M20.9,-4.7Q24.3,-2.6 26.9,3.7M47.2,-27.1Q42.6,-17.7 35.6,-6.2M18.0,40.6Q12.9,41.4 11.3,42.0M18.0,40.6Q19.5,43.3 21.5,45.5M21.5,45.5Q17.0,59.4 17.3,67.9M17.3,67.9Q13.2,53.8 10.9,44.2M10.9,44.2Q12.0,42.6 11.3,42.0M22.9,33.4Q20.9,36.5 18.0,40.6M6.7,38.0Q8.9,40.4 11.3,42.0M26.0,45.8Q22.6,46.7 21.5,45.5M18.3,84.0Q17.1,74.7 17.3,67.9M-2.7,46.7Q-0.2,54.2 2.0,60.5M-2.7,46.7Q-2.7,44.1 -2.0,44.2M-2.0,44.2Q2.3,43.8 4.8,48.8M2.0,60.5Q1.9,54.7 4.8,48.8M-2.2,42.1Q-4.2,43.2 -2.0,44.2M10.9,44.2Q7.8,47.8 4.8,48.8" fill="none" stroke="#d4b0ec" stroke-width="0.45" opacity="0.5"/>
<path d="M9,16 Q16,19 23,21.9 Q29,22.5 34,21.9 Q42,20 50,17 Q58,14 67,12" fill="none" stroke="#e488e0" stroke-width="4.5" stroke-linecap="round" opacity="0.85" filter="url(#bl2)"/>
<path d="M44,22 Q54,26 62,32" fill="none" stroke="#d890e0" stroke-width="3" stroke-linecap="round" opacity="0.5" filter="url(#bl2)"/>
<path d="M48,14 Q55,12 62,9" fill="none" stroke="#d890e0" stroke-width="3" stroke-linecap="round" opacity="0.4" filter="url(#bl2)"/>
<path d="M25,23 Q32,22.6 37,21.6 Q40,20 42,18.8 Q44,18 46.5,18.6" fill="none" stroke="#ffffff" stroke-width="1.7" stroke-linecap="round" opacity="0.95"/>
<path d="M46.5,18.6 Q45.6,21 44.6,24" fill="none" stroke="#ffffff" stroke-width="1.1" stroke-linecap="round" opacity="0.95"/>
<path d="M42.5,21.5 L41.8,24" fill="none" stroke="#ffffff" stroke-width="0.9" stroke-linecap="round" opacity="0.95"/>
<path d="M5,0.9 Q10,3 11.8,4.7 Q12,6 11.8,7.6" fill="none" stroke="#f0c8f0" stroke-width="0.6" stroke-linecap="round" opacity="0.95"/>
<path d="M2.3,8.5 Q5,14 7,17 Q8.5,18.5 9.9,19" fill="none" stroke="#f0c8f0" stroke-width="0.6" stroke-linecap="round" opacity="0.95"/>
<path d="M0,26.6 Q7,28 13.7,30.4 Q18,32 23.2,33.3" fill="none" stroke="#ecc4f4" stroke-width="0.6" stroke-linecap="round" opacity="0.95"/>
<path d="M16.5,35.2 Q14,41 11.8,46.6" fill="none" stroke="#ecc4f4" stroke-width="0.6" stroke-linecap="round" opacity="0.95"/>
<path d="M20,37 Q22,42 24,47" fill="none" stroke="#ecc4f4" stroke-width="0.5" stroke-linecap="round" opacity="0.95"/>
<path d="M45,35 Q55,40 62,47" fill="none" stroke="#f0c8f0" stroke-width="0.6" stroke-linecap="round" opacity="0.95"/>
<path d="M28,32 Q40,30 50,38" fill="none" stroke="#e8b8f0" stroke-width="0.5" stroke-linecap="round" opacity="0.95"/>
<rect x="55.400000000000006" y="46.3" width="8.6" height="1.3" fill="#111"/>
</g></g>
<g clip-path="url(#hc2)"><g transform="translate(83.5,303.0)">
<rect width="66.55" height="49.1" fill="#a262cc" filter="url(#tx2)"/>
<path d="M73.0,39.5Q69.8,41.2 65.3,43.7M65.2,49.7Q64.2,48.0 65.3,43.7M65.2,49.7Q60.3,52.4 55.8,57.3M33.1,-27.4Q28.1,-17.3 23.6,-4.5M33.1,-27.4Q36.4,-14.2 39.1,-4.3M39.1,-4.3Q31.8,1.5 27.0,3.0M27.0,3.0Q24.3,-0.5 23.6,-4.5M44.0,14.3Q40.1,15.5 38.6,17.4M44.0,14.3Q47.4,8.7 50.6,4.4M40.6,-2.3Q36.5,3.7 34.4,11.7M40.6,-2.3Q43.6,-2.9 49.0,1.2M38.6,17.4Q36.1,15.2 34.4,11.7M49.0,1.2Q51.2,3.8 50.6,4.4M37.9,21.3Q41.9,22.8 38.6,23.4M37.9,21.3Q37.5,22.1 38.6,17.4M38.6,23.4Q44.9,27.8 54.3,29.3M54.3,29.3Q55.7,25.4 59.9,20.5M59.9,20.5Q49.0,18.8 44.0,14.3M73.4,10.4Q61.8,5.9 50.6,4.4M73.4,10.4Q74.5,13.2 70.6,13.7M70.6,13.7Q65.3,16.0 59.9,20.5M39.1,-4.3Q39.8,-3.6 40.6,-2.3M26.8,7.6Q28.0,6.5 27.0,3.0M26.8,7.6Q29.6,8.9 34.4,11.7M19.2,-3.5Q15.4,-1.8 13.2,4.0M19.2,-3.5Q6.6,-11.4 -4.1,-19.1M13.2,4.0Q6.8,-2.6 -1.6,-13.1M-4.1,-19.1Q-4.1,-15.3 -1.6,-13.1M23.6,-4.5Q20.7,-0.9 19.2,-3.5M37.1,29.4Q37.8,27.2 38.6,23.4M37.1,29.4Q36.7,29.3 39.0,31.7M54.3,29.3Q55.1,31.4 55.2,34.6M55.2,34.6Q51.5,33.7 46.8,37.4M39.0,31.7Q43.9,33.2 46.8,37.4M55.8,57.3Q57.7,55.8 54.4,55.1M54.4,55.1Q48.9,50.7 40.2,50.5M19.5,72.5Q28.2,58.6 35.5,47.3M35.5,47.3Q36.3,47.7 38.5,48.0M40.2,50.5Q38.8,49.6 38.5,48.0M37.1,29.4Q33.1,35.8 26.9,40.2M26.9,40.2Q31.1,41.7 35.5,47.3M39.0,31.7Q39.1,37.9 41.6,44.8M38.5,48.0Q36.9,47.5 41.6,44.8M46.8,37.4Q44.5,40.3 43.0,43.9M41.6,44.8Q43.7,45.4 43.0,43.9M71.1,36.9Q67.7,33.8 63.6,33.7M71.1,36.9Q70.7,30.6 69.4,23.3M69.4,23.3Q65.2,30.1 63.6,33.7M73.0,39.5Q72.8,35.2 71.1,36.9M65.3,43.7Q61.2,39.9 56.8,40.0M56.8,40.0Q57.8,38.6 55.4,34.9M55.4,34.9Q57.9,33.0 63.6,33.7M70.6,13.7Q70.2,18.1 69.4,23.3M55.2,34.6Q57.6,35.9 55.4,34.9M37.9,21.3Q34.7,22.5 32.4,21.9M26.8,7.6Q21.0,9.4 21.2,10.2M32.4,21.9Q31.2,21.2 27.3,21.0M27.3,21.0Q23.2,16.5 21.2,10.2M13.2,4.0Q16.7,8.2 14.2,11.9M21.2,10.2Q16.0,13.2 14.2,11.9M32.4,21.9Q24.3,26.9 21.9,30.5M26.9,40.2Q25.2,41.6 25.2,40.1M21.9,30.5Q22.3,37.3 25.2,40.1M19.5,72.5Q20.3,55.2 20.3,43.0M7.7,40.9Q11.0,41.5 20.3,43.0M20.3,43.0Q24.7,41.8 25.2,40.1M-5.9,15.0Q-2.5,21.3 0.7,28.3M1.6,28.4Q2.3,28.9 0.7,28.3M1.6,28.4Q5.0,30.0 7.5,34.7M7.7,40.9Q9.4,39.9 7.5,34.7M1.4,12.0Q-3.1,16.7 -3.7,14.5M1.4,12.0Q1.0,-1.3 -1.6,-13.1M-3.7,14.5Q-7.7,15.8 -5.9,15.0M1.6,28.4Q3.0,25.9 2.7,25.2M2.7,25.2Q-3.2,21.6 -3.7,14.5M56.6,40.4Q48.9,41.5 43.0,44.0M56.6,40.4Q59.7,46.7 54.2,46.7M54.2,46.7Q50.0,44.7 43.0,44.0M56.8,40.0Q57.7,36.8 56.6,40.4M43.0,43.9Q43.2,42.8 43.0,44.0M54.4,55.1Q52.4,48.6 54.2,46.7M16.3,23.1Q15.2,18.6 12.6,13.8M16.3,23.1Q16.6,24.5 16.3,23.4M16.3,23.4Q12.4,24.5 11.0,29.3M11.0,29.3Q5.3,26.0 4.9,23.6M4.9,23.6Q9.6,18.5 12.0,13.9M12.0,13.9Q13.3,12.1 12.6,13.8M27.3,21.0Q21.1,20.9 16.3,23.1M14.2,11.9Q11.5,15.7 12.6,13.8M21.9,30.5Q20.4,25.8 16.3,23.4M7.5,34.7Q8.1,31.9 11.0,29.3M2.7,25.2Q1.6,25.1 4.9,23.6M1.4,12.0Q4.8,12.4 12.0,13.9" fill="none" stroke="#d4b0ec" stroke-width="0.45" opacity="0.5"/>
<path d="M31,0 Q26,14 14,24 Q7,29 2,33" fill="none" stroke="#fbeefc" stroke-width="1.0" stroke-linecap="round" opacity="0.95"/>
<path d="M2,33.5 L24,34.3" fill="none" stroke="#fbeefc" stroke-width="1.0" stroke-linecap="round" opacity="0.95"/>
<path d="M44,21 Q54,17 66,22" fill="none" stroke="#fbeefc" stroke-width="1.0" stroke-linecap="round" opacity="0.95"/>
<path d="M44,21 Q42,34 30,48" fill="none" stroke="#f6e0fa" stroke-width="0.9" stroke-linecap="round" opacity="0.95"/>
<path d="M18,36 Q20,44 16,50" fill="none" stroke="#e8c0f0" stroke-width="0.6" stroke-linecap="round" opacity="0.95"/>
<path d="M55,38 Q58,44 57,49" fill="none" stroke="#f0d0f8" stroke-width="0.6" stroke-linecap="round" opacity="0.95"/>
<circle cx="13.5" cy="31.5" r="1.0" fill="#f0b0e8"/>
<rect x="55.55" y="46.3" width="8.6" height="1.3" fill="#111"/>
</g></g>
<g clip-path="url(#hc3)"><g transform="translate(151.7,303.0)">
<rect width="66.1" height="49.1" fill="#a866cc" filter="url(#tx3)"/>
<path d="M-49.8,31.4Q-46.5,31.4 -43.2,32.4M-4.4,52.3Q-26.4,44.9 -43.2,32.4M-9.3,12.6Q-0.2,19.3 6.5,23.8M-9.3,12.6Q-3.1,10.2 -0.3,6.7M-0.3,6.7Q1.5,6.1 5.2,7.8M5.2,7.8Q7.7,14.0 12.6,16.1M6.5,23.8Q7.4,19.1 12.6,16.1M-4.4,52.3Q-1.5,52.5 2.5,52.0M2.5,52.0Q11.4,61.5 18.5,74.8M-14.7,-29.8Q-5.2,-14.8 9.6,0.1M10.5,-0.6Q11.9,0.9 9.6,0.1M55.2,-135.5Q40.2,-68.1 24.6,0.3M24.6,0.3Q18.0,-0.5 10.5,-0.6M-49.8,31.4Q-28.3,20.8 -9.3,12.6M-0.3,6.7Q-7.3,-11.7 -14.7,-29.8M5.2,7.8Q8.2,4.3 9.6,0.1M24.6,0.3Q29.3,7.6 26.4,10.4M26.4,10.4Q21.9,10.2 13.0,16.2M13.0,16.2Q12.3,15.2 12.6,16.1M-43.2,32.4Q-22.5,29.5 -3.4,33.5M2.5,52.0Q5.1,48.5 4.2,41.8M-3.4,33.5Q-1.5,36.2 4.2,41.8M6.5,23.8Q4.4,25.6 4.6,27.3M-3.4,33.5Q1.6,33.4 4.6,27.3M46.4,-11.6Q46.0,-9.9 46.2,-10.4M46.4,-11.6Q54.1,3.0 61.3,12.2M46.2,-10.4Q47.6,-4.9 46.7,-3.6M46.7,-3.6Q52.1,4.7 60.9,13.5M61.3,12.2Q59.8,15.1 60.9,13.5M55.2,-135.5Q51.8,-74.0 46.4,-11.6M18.5,74.8Q18.5,65.0 19.8,53.6M8.6,42.3Q5.4,40.6 4.2,41.8M8.6,42.3Q14.9,51.2 19.8,52.7M19.8,53.6Q19.4,52.3 19.8,52.7M36.7,28.2Q35.8,29.6 38.4,35.0M36.7,28.2Q35.3,29.9 32.4,29.1M21.6,40.6Q28.4,40.8 35.2,39.9M21.6,40.6Q21.3,39.6 20.7,38.1M20.7,38.1Q24.3,32.9 32.4,29.1M38.4,35.0Q37.0,36.3 35.2,39.9M21.6,40.6Q20.7,43.9 21.2,49.6M21.2,49.6Q27.2,47.5 34.3,42.9M35.2,39.9Q34.1,41.2 34.3,42.9M21.2,49.6Q21.7,52.1 19.8,52.7M19.8,53.6Q30.2,47.8 35.4,48.2M34.3,42.9Q36.1,44.8 35.4,48.2M43.8,114.5Q43.5,90.6 42.7,64.1M35.4,48.2Q40.7,57.7 42.7,64.1M15.1,33.8Q16.2,37.1 16.8,35.6M15.1,33.8Q15.5,27.7 16.7,22.1M16.7,22.1Q20.2,23.9 21.4,27.3M21.4,27.3Q22.4,33.0 16.9,35.6M16.9,35.6Q20.1,35.6 16.8,35.6M4.6,27.3Q9.2,30.8 15.1,33.8M8.6,42.3Q13.8,38.1 16.8,35.6M13.0,16.2Q15.4,19.1 16.7,22.1M20.7,38.1Q21.3,35.9 16.9,35.6M32.4,29.1Q28.5,27.2 21.4,27.3M46.2,-10.4Q38.6,-2.6 33.8,7.4M46.7,-3.6Q44.6,2.0 46.2,7.1M46.2,7.1Q41.5,7.5 33.8,7.4M26.4,10.4Q28.0,13.1 27.7,11.0M27.7,11.0Q31.2,9.5 33.8,7.4M38.4,35.0Q39.0,33.2 40.4,36.3M42.7,64.1Q45.4,55.6 45.8,52.3M40.4,36.3Q44.1,44.3 45.8,52.3M43.8,114.5Q54.2,81.1 61.2,48.0M61.2,48.0Q53.0,49.8 47.3,50.6M47.3,50.6Q45.7,51.2 45.8,52.3M61.7,46.6Q61.6,45.9 61.5,45.6M61.7,46.6Q71.0,48.9 80.8,53.8M61.5,45.6Q64.0,38.2 67.1,37.1M80.8,53.8Q73.7,43.6 67.1,37.1M61.2,48.0Q63.1,49.2 61.7,46.6M53.4,41.6Q47.4,46.3 47.3,50.6M53.4,41.6Q57.3,42.0 61.5,45.6M70.6,25.4Q69.6,30.6 67.1,37.1M50.9,12.1Q46.4,10.4 47.3,9.4M50.9,12.1Q43.0,18.1 35.6,23.7M47.3,9.4Q38.7,15.1 33.8,18.8M35.6,23.7Q35.8,19.6 33.8,18.8M60.2,16.7Q59.5,15.0 60.9,13.5M60.2,16.7Q54.7,17.0 50.9,12.1M46.2,7.1Q47.0,6.7 47.3,9.4M27.7,11.0Q29.6,14.8 33.8,18.8M36.7,28.1Q40.1,27.9 36.7,28.2M36.7,28.1Q36.3,26.7 35.6,23.7M46.3,37.8Q49.3,42.3 52.5,40.0M46.3,37.8Q51.9,31.0 59.2,21.8M52.5,40.0Q57.4,31.6 61.9,21.3M61.9,21.3Q60.0,23.8 61.6,21.1M61.6,21.1Q60.2,21.5 59.2,21.8M40.4,36.3Q41.9,36.0 46.3,37.8M53.4,41.6Q53.8,42.3 52.5,40.0M36.7,28.1Q49.1,26.8 59.2,21.8M70.6,25.4Q67.3,23.4 61.9,21.3M60.2,16.7Q62.1,19.8 61.6,21.1" fill="none" stroke="#d4b0ec" stroke-width="0.45" opacity="0.5"/>
<path d="M21,5.5 Q38,4 57,6" fill="none" stroke="#e27ada" stroke-width="4.5" stroke-linecap="round" opacity="0.9" filter="url(#bl2)"/>
<path d="M8,48 Q25,42 40,35 Q52,28 62,21" fill="none" stroke="#e27ada" stroke-width="4" stroke-linecap="round" opacity="0.85" filter="url(#bl2)"/>
<path d="M10,47 Q16,46 22,45" fill="none" stroke="#e8a0e0" stroke-width="3" stroke-linecap="round" opacity="0.8" filter="url(#bl2)"/>
<path d="M0,23.6 Q5,26 9.7,26.5 Q16,26 23,25.5" fill="none" stroke="#ffffff" stroke-width="0.9" stroke-linecap="round" opacity="0.95"/>
<path d="M6,26 Q10,30 13.5,35" fill="none" stroke="#ffffff" stroke-width="0.8" stroke-linecap="round" opacity="0.95"/>
<path d="M23,38 L26,41.7 L28.7,38" fill="none" stroke="#ffffff" stroke-width="0.8" stroke-linecap="round" opacity="0.95"/>
<path d="M57,37 Q56,42 55,46.5" fill="none" stroke="#ffffff" stroke-width="0.8" stroke-linecap="round" opacity="0.95"/>
<path d="M11,48 Q15,46.5 19,46.5" fill="none" stroke="#ffffff" stroke-width="1.0" stroke-linecap="round" opacity="0.95"/>
<path d="M23,5 Q35,6.6 49,5 L49,6.7 Q35,8.2 23,6.7 Z" fill="#fff" opacity="0.95"/>
<circle cx="51.6" cy="5" r="1.2" fill="#fff"/>
<circle cx="57" cy="23.6" r="1.0" fill="#fff"/>
<circle cx="49.7" cy="31.2" r="1.0" fill="#fff"/>
<rect x="55.099999999999994" y="46.3" width="8.6" height="1.3" fill="#111"/>
</g></g>
<g clip-path="url(#hc4)"><g transform="translate(15.6,354.8)">
<rect width="66.4" height="50.0" fill="#c8365f" filter="url(#tx4)"/>
<path d="M3.3,36.5Q18.6,43.9 31.6,57.6M3.3,36.5Q-17.1,14.2 -36.4,-8.8M-44.7,-17.1Q-42.8,-11.5 -36.4,-8.8M35.9,7.7Q44.1,14.1 51.8,17.5M7.7,2.9Q-17.1,-8.6 -44.7,-17.1M7.7,2.9Q20.6,5.0 35.9,7.7M7.7,2.9Q19.2,12.1 28.5,18.8M-36.4,-8.8Q-4.2,10.7 30.0,32.0M30.0,32.0Q28.1,24.5 28.5,18.8M94.1,36.9Q81.1,42.0 68.9,47.6M50.1,24.0Q52.4,24.1 48.6,25.6M50.1,24.0Q53.7,27.1 58.1,28.8M48.6,25.6Q42.7,33.5 39.7,42.4M58.1,28.8Q62.5,39.6 66.9,48.1M38.9,47.0Q50.5,49.9 66.1,48.7M38.9,47.0Q38.8,45.0 39.7,42.4M66.1,48.7Q67.8,49.4 66.9,48.1M51.8,17.5Q52.6,21.0 50.1,24.0M28.5,18.8Q38.5,22.7 48.6,25.6M94.1,36.9Q74.6,34.7 58.1,28.8M30.0,32.0Q33.7,35.3 39.7,42.4M68.9,47.6Q71.0,47.7 66.9,48.1M31.6,57.6Q33.5,55.1 38.9,47.0" fill="none" stroke="#f4d8e0" stroke-width="0.5" opacity="0.4"/>
<path d="M19,6 L22,6.5 L24,8.5 L27,9.5 L28.5,12 L31,13.5 L32,16 L34.5,18 L35,20.5 L37,22 L37.5,25 L39.5,27 L40,30" fill="none" stroke="#3a2a9e" stroke-width="2.6" stroke-linejoin="miter" opacity="0.95"/>
<path d="M39.5,31 L38.5,34 L39,37 L37.8,41 L37,44 L36.5,47" fill="none" stroke="#4a2a70" stroke-width="1.3" stroke-linejoin="miter" opacity="0.95"/>
<path d="M26,9 L29,13 L30,12" fill="none" stroke="#2a1a80" stroke-width="1.0" stroke-linejoin="miter" opacity="0.95"/>
<path d="M2,0 Q6,6 9.8,12.4 Q12,17 12.7,21.9 Q15,28 17.4,33.3 Q20,37 22.2,41 Q23.5,45 24.1,50" fill="none" stroke="#ffffff" stroke-width="1.8" stroke-linecap="round" opacity="0.95"/>
<path d="M1.3,28.6 Q7,29 12.7,30.5 Q15,31.5 17,33" fill="none" stroke="#ffffff" stroke-width="1.3" stroke-linecap="round" opacity="0.95"/>
<path d="M1,1 Q2.5,6 2,11" fill="none" stroke="#ffffff" stroke-width="1.0" stroke-linecap="round" opacity="0.95"/>
<path d="M25,8.6 Q26.5,22 26.9,39" fill="none" stroke="#ffffff" stroke-width="0.8" stroke-linecap="round" opacity="0.95"/>
<path d="M44,17.2 Q50,12 55.5,9.6 Q59,7 61.2,4.8" fill="none" stroke="#ffffff" stroke-width="1.6" stroke-linecap="round" opacity="0.95"/>
<path d="M53,1 Q60,3 67,2" fill="none" stroke="#ffffff" stroke-width="2.2" stroke-linecap="round" opacity="0.95"/>
<path d="M61.2,4.8 Q64,6 67,6" fill="none" stroke="#ffffff" stroke-width="1.4" stroke-linecap="round" opacity="0.95"/>
<path d="M55.5,29.5 Q56.5,38 56.4,48.6" fill="none" stroke="#ffffff" stroke-width="1.1" stroke-linecap="round" opacity="0.95"/>
<path d="M44,17.2 Q41,25 39.3,33.3" fill="none" stroke="#ffffff" stroke-width="0.8" stroke-linecap="round" opacity="0.95"/>
<path d="M63,14 Q64,30 66,45" fill="none" stroke="#ffffff" stroke-width="0.9" stroke-linecap="round" opacity="0.95"/>
<path d="M9,36 Q5,42 4,50" fill="none" stroke="#ffffff" stroke-width="0.8" stroke-linecap="round" opacity="0.95"/>
<circle cx="21" cy="5.4" r="0.8" fill="#fff"/>
<circle cx="27.5" cy="9.8" r="0.7" fill="#fff"/>
<circle cx="33.3" cy="17.2" r="0.6" fill="#fff"/>
<circle cx="36.8" cy="26.5" r="0.6" fill="#fff"/>
<circle cx="24" cy="10.5" r="0.6" fill="#f0e0f0"/>
<circle cx="30" cy="11.5" r="0.6" fill="#f0e0f0"/>
<circle cx="38" cy="30" r="0.5" fill="#fff"/>
<rect x="55.400000000000006" y="47.199999999999996" width="8.6" height="1.3" fill="#222"/>
</g></g>
<g clip-path="url(#hc5)"><g transform="translate(83.5,354.8)">
<rect width="66.55" height="50.0" fill="#d04466" filter="url(#tx5)"/>
<path d="M51.8,-0.8Q36.0,7.6 23.1,16.5M51.8,-0.8Q48.9,-5.0 49.8,-9.3M49.8,-9.3Q30.2,-2.2 10.6,5.7M23.1,16.5Q15.4,11.7 10.8,8.0M10.6,5.7Q9.1,4.9 10.8,8.0M73.9,23.5Q70.8,35.8 67.0,51.5M73.9,23.5Q74.2,24.2 70.9,22.6M70.9,22.6Q56.2,36.8 47.4,50.1M67.0,51.5Q55.5,50.8 47.4,50.1M60.8,15.5Q65.9,16.1 70.9,22.6M60.8,15.5Q56.0,7.0 51.8,-0.8M10.8,8.0Q6.7,13.8 -0.4,23.0M47.4,50.1Q42.1,54.0 34.6,61.1M-0.4,23.0Q3.6,28.8 8.6,37.1M2.0,44.7Q7.5,41.7 8.6,37.1M37.5,29.3Q37.3,39.7 29.8,48.1M37.5,29.3Q31.8,24.9 23.6,18.0M23.6,18.0Q18.6,28.0 15.3,38.2M29.8,48.1Q24.6,42.5 15.3,38.2M60.8,15.5Q49.4,22.4 37.5,29.3M34.6,61.1Q33.1,54.1 29.8,48.1M23.1,16.5Q23.1,17.6 23.6,18.0M8.6,37.1Q12.1,36.3 15.3,38.2" fill="none" stroke="#f4d8e0" stroke-width="0.5" opacity="0.4"/>
<path d="M18,0 Q20,18 27,34" fill="none" stroke="#ffffff" stroke-width="0.9" stroke-linecap="round" opacity="0.95"/>
<path d="M5,47 Q20,40 33,35 Q50,33 67,34" fill="none" stroke="#ffffff" stroke-width="1.4" stroke-linecap="round" opacity="0.95"/>
<path d="M0,12 Q6,16 10,19" fill="none" stroke="#ffffff" stroke-width="0.8" stroke-linecap="round" opacity="0.95"/>
<path d="M53,0 Q52,10 53,18" fill="none" stroke="#ffffff" stroke-width="0.9" stroke-linecap="round" opacity="0.95"/>
<path d="M60,40 Q63,45 66,50" fill="none" stroke="#ffffff" stroke-width="1.0" stroke-linecap="round" opacity="0.95"/>
<circle cx="12" cy="20" r="0.8" fill="#5a3a9a"/>
<circle cx="14" cy="24" r="0.7" fill="#5a3a9a"/>
<circle cx="11" cy="28" r="0.7" fill="#5a3a9a"/>
<circle cx="45" cy="15" r="0.7" fill="#5a3a9a"/>
<circle cx="55" cy="22" r="0.8" fill="#5a3a9a"/>
<circle cx="58" cy="24" r="0.7" fill="#6a4aa0"/>
<rect x="55.55" y="47.199999999999996" width="8.6" height="1.3" fill="#111"/>
</g></g>
<g clip-path="url(#hc6)"><g transform="translate(151.7,354.8)">
<rect width="66.1" height="50.0" fill="#c03058" filter="url(#tx6)"/>
<path d="M7.5,37.3Q-13.9,28.7 -36.4,22.7M4.2,8.1Q7.5,9.7 7.1,10.1M4.2,8.1Q5.1,-2.5 5.0,-13.8M7.1,10.1Q17.2,4.2 24.5,-1.2M5.0,-13.8Q16.4,-8.3 24.5,-1.2M7.5,37.3Q13.8,30.0 20.9,24.7M-36.4,22.7Q-15.2,15.4 4.2,8.1M20.9,24.7Q12.7,20.4 7.1,10.1M35.1,-1.6Q29.3,-1.6 24.5,-1.2M35.1,-1.6Q36.0,6.4 35.7,9.1M20.9,24.7Q22.4,25.9 24.4,25.0M35.7,9.1Q30.2,14.8 24.4,25.0M35.7,9.1Q47.9,13.2 57.7,14.3M24.4,25.0Q27.2,28.1 30.6,31.2M53.4,25.2Q39.7,25.9 30.6,31.2M53.4,25.2Q56.4,35.1 60.6,43.2M30.6,31.2Q42.2,41.9 55.1,51.8M60.6,43.2Q59.3,47.6 55.1,51.8M57.7,14.3Q56.4,21.9 53.4,25.2M30.6,31.2Q28.7,32.3 30.6,31.2M62.6,42.2Q58.8,43.3 60.6,43.2" fill="none" stroke="#f4d8e0" stroke-width="0.5" opacity="0.4"/>
<polygon points="60.9,0 63.5,3 65.7,5.9 66.6,12.6 66.2,21.1 61.9,28.8 58.1,36.4 52.3,41.2 46.6,45.9 42.8,50.5 66.6,50.5 66.6,0" fill="#d9d8dc"/>
<path d="M0,23 Q12,19 25,17 Q40,20 56,28" fill="none" stroke="#ffffff" stroke-width="0.9" stroke-linecap="round" opacity="0.95"/>
<path d="M20,0 Q24,8 26,16" fill="none" stroke="#ffffff" stroke-width="0.6" stroke-linecap="round" opacity="0.95"/>
<path d="M50.4,31.6 Q52,35 53.3,38.3" fill="none" stroke="#ffffff" stroke-width="0.7" stroke-linecap="round" opacity="0.95"/>
<path d="M44.7,0 Q45.5,5 45.7,9.7" fill="none" stroke="#ffffff" stroke-width="0.7" stroke-linecap="round" opacity="0.95"/>
<path d="M58,17.3 Q58.8,22 59,27.8" fill="none" stroke="#ffffff" stroke-width="0.7" stroke-linecap="round" opacity="0.95"/>
<circle cx="10" cy="27" r="0.8" fill="#5a3a9a"/>
<circle cx="35" cy="32" r="0.9" fill="#5a3a9a"/>
<circle cx="48" cy="10" r="0.9" fill="#5a3a9a"/>
<circle cx="52" cy="12" r="0.7" fill="#5a3a9a"/>
<rect x="55.099999999999994" y="47.199999999999996" width="8.6" height="1.3" fill="#444"/>
</g></g>
<g clip-path="url(#hc7)"><g transform="translate(15.6,433.5)">
<rect width="66.4" height="49.4" fill="#b56fdf" filter="url(#tx7)"/>
<path d="M73.3,38.9Q73.9,41.6 70.0,45.5M32.2,63.0Q34.6,58.4 38.0,52.6M38.0,52.6Q48.9,61.3 60.2,70.6M70.0,45.5Q60.6,47.2 54.6,48.8M60.2,70.6Q56.7,61.4 54.6,48.8M0.3,-13.6Q0.3,-10.1 -1.7,-6.6M-1.7,-6.6Q-10.9,1.2 -22.1,10.0M-153.3,24.2Q-86.1,17.1 -22.1,10.0M-1.7,-6.6Q-0.5,0.1 -1.0,10.7M-22.1,10.0Q-11.0,7.8 -1.0,10.7M73.3,38.9Q67.7,36.0 68.2,34.1M76.0,13.2Q71.9,16.6 70.5,19.6M68.2,34.1Q72.0,28.6 69.1,25.6M69.1,25.6Q68.8,22.9 70.5,19.6M69.1,25.6Q63.7,27.7 56.9,30.3M66.5,20.5Q68.2,21.1 70.5,19.6M66.5,20.5Q63.1,22.7 58.1,28.0M58.1,28.0Q57.4,29.2 56.9,30.3M66.5,20.5Q60.5,21.0 57.6,20.8M58.1,28.0Q56.6,25.9 57.6,20.8M68.2,34.1Q61.6,36.4 54.4,38.4M56.9,30.3Q54.0,32.3 52.9,34.7M54.4,38.4Q50.6,34.9 52.9,34.7M54.6,48.8Q54.2,44.4 52.8,46.4M54.4,38.4Q54.8,39.8 52.8,46.4M38.0,52.6Q40.4,48.7 40.5,47.3M52.8,46.4Q47.8,47.0 40.5,47.3M52.9,34.7Q45.8,30.7 43.3,23.0M37.7,44.6Q41.3,45.9 40.5,47.3M37.7,44.6Q37.6,35.2 38.3,26.3M38.3,26.3Q39.3,26.3 43.3,23.0M76.0,13.2Q67.4,8.8 60.3,4.6M60.3,4.6Q51.8,-55.6 45.6,-113.9M0.3,-13.6Q3.9,-3.7 11.4,2.5M-1.0,10.7Q-0.8,12.4 -0.2,11.1M-0.2,11.1Q5.6,5.8 11.4,2.5M57.6,20.8Q52.1,19.2 47.6,19.2M43.3,23.0Q43.4,22.2 43.4,22.5M47.6,19.2Q45.1,18.8 43.4,22.5M60.3,4.6Q55.8,8.8 53.6,8.0M47.6,19.2Q49.6,12.0 53.6,8.0M45.6,-113.9Q42.2,-82.6 37.8,-55.6M53.6,8.0Q46.7,4.7 44.1,2.1M37.8,-55.6Q40.0,-29.4 44.1,2.1M-69.8,31.4Q-39.6,33.3 -11.7,35.4M-69.8,31.4Q-34.9,41.9 -0.2,54.8M-11.7,35.4Q-6.0,38.5 -1.6,43.2M-0.2,54.8Q-1.1,47.3 -1.6,43.2M4.4,73.7Q0.3,66.3 -0.2,54.8M-153.3,24.2Q-112.3,28.2 -69.8,31.4M4.4,73.7Q5.7,70.2 7.1,68.0M7.1,68.0Q7.2,56.0 8.8,42.2M-1.6,43.2Q-0.9,42.7 0.7,42.7M8.8,42.2Q4.8,44.2 0.7,42.7M37.8,-55.6Q32.7,-29.9 25.6,-5.3M44.1,2.1Q41.0,1.7 39.7,5.4M25.6,-5.3Q34.1,1.5 39.7,5.4M11.4,2.5Q16.3,3.5 21.6,2.9M25.6,-5.3Q24.8,0.0 21.6,2.9M-11.7,35.4Q-3.4,29.3 2.1,24.6M0.7,42.7Q5.8,36.1 6.3,33.3M6.3,33.3Q5.5,29.7 2.1,24.6M-0.2,11.1Q3.7,18.8 4.9,20.8M21.6,2.9Q24.0,1.6 21.9,3.8M21.9,3.8Q11.8,13.6 6.7,21.0M6.7,21.0Q4.3,20.9 4.9,20.8M2.1,24.6Q4.8,20.2 4.9,20.8M23.6,7.2Q21.3,8.1 25.4,8.2M23.6,7.2Q23.5,6.3 23.2,6.2M23.2,6.2Q31.5,4.6 39.7,5.6M25.4,8.2Q29.8,9.0 38.7,10.2M38.7,10.2Q37.7,5.4 39.7,5.6M39.7,5.4Q40.5,5.4 39.7,5.6M21.9,3.8Q23.1,3.5 23.2,6.2M43.0,21.8Q39.9,14.5 38.7,10.2M43.0,21.8Q35.6,18.5 31.0,14.6M31.0,14.6Q27.0,11.9 25.4,8.2M43.0,21.8Q43.7,25.2 43.4,22.5M8.8,42.2Q8.5,43.1 12.3,41.4M6.3,33.3Q8.7,34.6 11.4,35.9M12.3,41.4Q9.7,38.0 11.4,35.9M7.1,68.0Q14.5,56.3 19.7,44.8M12.3,41.4Q16.2,42.7 19.7,44.8M32.2,63.0Q28.3,53.7 21.0,44.4M37.7,44.6Q27.3,42.3 23.6,42.1M23.6,42.1Q19.3,38.4 21.0,44.4M38.3,26.3Q31.0,29.2 25.4,28.2M23.6,42.1Q24.6,33.4 25.4,28.2M21.0,44.4Q19.0,46.3 19.7,44.8M10.5,22.7Q11.3,29.0 11.6,35.2M10.5,22.7Q15.7,23.4 21.1,24.1M11.6,35.2Q19.1,31.9 24.1,27.0M21.1,24.1Q22.9,23.9 24.0,26.9M24.0,26.9Q24.8,25.9 24.1,27.0M6.7,21.0Q10.3,19.9 10.5,22.7M11.4,35.9Q11.3,35.5 11.6,35.2M23.6,7.2Q20.4,18.2 21.1,24.1M25.4,28.2Q26.9,26.9 24.1,27.0M31.0,14.6Q28.6,21.3 24.0,26.9" fill="none" stroke="#d4b0ec" stroke-width="0.45" opacity="0.5"/>
<path d="M0,41 Q12,35 21,31 Q34,26 46,23 Q56,22 67,23" fill="none" stroke="#e090dc" stroke-width="8" stroke-linecap="round" opacity="0.85" filter="url(#bl2)"/>
<path d="M15,10 Q25,10 34,12 Q42,15 48,20" fill="none" stroke="#e090dc" stroke-width="6" stroke-linecap="round" opacity="0.7" filter="url(#bl2)"/>
<path d="M27,34 Q31,40 34,47" fill="none" stroke="#e090dc" stroke-width="5" stroke-linecap="round" opacity="0.6" filter="url(#bl2)"/>
<path d="M53.6,6 L65,4" fill="none" stroke="#f4d8f4" stroke-width="0.7" stroke-linecap="round" opacity="0.95"/>
<path d="M53.6,11 L63,13.6" fill="none" stroke="#f4d8f4" stroke-width="0.7" stroke-linecap="round" opacity="0.95"/>
<path d="M53.6,6 L53.6,11" fill="none" stroke="#f4d8f4" stroke-width="0.6" stroke-linecap="round" opacity="0.95"/>
<path d="M40,40 Q44,44 46,50" fill="none" stroke="#f0c0f0" stroke-width="0.6" stroke-linecap="round" opacity="0.95"/>
<path d="M45,30 L47,36" fill="none" stroke="#f8e0f8" stroke-width="0.8" stroke-linecap="round" opacity="0.95"/>
<path d="M17,32 Q24,29.5 30,28.6 L33,27 Q38,25.5 41,24.6 L44,22.6 L47,22.2 L46,24.6 Q42,26 38,27.6 L33,29.4 Q26,31.5 18,34 Z" fill="#fff" opacity="0.95"/>
<path d="M51,24.2 Q57,23.6 64,24.4 L66.5,25.4 L65,26.8 Q58,25.6 52,26.4 Z" fill="#fff" opacity="0.95"/>
<path d="M20,35 L23,33.6 L22,36 Z" fill="#fff" opacity="0.95"/>
<rect x="55.400000000000006" y="46.599999999999994" width="8.6" height="1.3" fill="#111"/>
</g></g>
<g clip-path="url(#hc8)"><g transform="translate(83.5,433.5)">
<rect width="66.55" height="49.4" fill="#b15cd5" filter="url(#tx8)"/>
<path d="M54.4,54.2Q59.9,47.2 58.2,39.0M58.2,39.0Q74.9,29.1 87.8,20.7M58.2,39.0Q58.6,33.5 53.4,26.5M53.4,26.5Q53.7,21.5 53.9,19.2M87.8,20.7Q87.6,19.8 86.3,20.3M53.9,19.2Q69.8,17.3 86.3,20.3M65.4,1.0Q64.1,6.1 64.2,10.7M86.3,20.3Q73.4,15.6 64.2,10.7M26.2,60.1Q17.2,56.5 6.3,53.8M6.3,53.8Q5.3,51.9 6.2,51.8M-10.1,40.8Q-0.5,44.0 6.2,51.8M6.1,23.8Q5.1,22.3 5.1,22.1M6.1,23.8Q3.4,29.0 0.3,34.5M5.1,22.1Q-0.9,27.0 -3.6,25.7M-3.6,25.7Q-5.1,29.7 -7.1,37.7M-7.1,37.7Q-4.7,36.3 0.3,34.5M11.2,30.7Q8.6,30.4 4.2,34.2M11.2,30.7Q10.4,25.6 7.5,24.6M7.5,24.6Q5.6,25.5 6.1,23.8M4.2,34.2Q4.8,34.3 0.3,34.5M-8.6,11.2Q-2.2,12.8 5.0,10.6M-8.6,11.2Q-7.7,18.9 -3.6,25.7M5.0,10.6Q5.4,17.9 5.1,22.1M-10.1,40.8Q-8.1,38.9 -7.1,37.7M7.5,24.6Q12.1,21.7 14.9,22.2M5.0,10.6Q6.3,9.5 5.1,10.5M14.9,22.2Q8.7,15.8 5.1,10.5M54.4,54.2Q53.1,54.3 51.7,52.3M53.4,26.5Q46.1,27.8 39.3,26.9M51.7,52.3Q47.0,39.4 39.3,26.9M11.2,30.7Q13.0,33.0 17.7,32.5M17.7,32.5Q18.4,28.8 18.3,31.4M14.9,22.2Q15.0,22.9 18.0,23.2M18.3,31.4Q16.1,26.3 18.0,23.2M17.7,32.5Q15.2,33.7 17.8,33.6M4.2,34.2Q10.1,38.9 15.3,43.1M17.8,33.6Q18.7,37.8 15.3,43.1M6.2,51.8Q10.3,51.9 15.2,45.9M15.3,43.1Q13.3,45.6 15.2,45.9M26.2,60.1Q21.7,54.4 21.2,48.0M15.2,45.9Q21.4,47.3 21.2,48.0M3.7,-0.1Q4.2,5.6 7.0,4.3M65.4,1.0Q60.4,1.7 57.1,3.1M57.1,3.1Q54.8,-3.5 51.7,-6.0M51.7,-6.0Q47.8,-64.5 40.6,-127.9M51.7,-6.0Q50.6,0.1 47.3,5.1M33.1,-4.1Q35.1,0.6 37.6,2.7M33.1,-4.1Q27.2,-12.6 30.8,-20.7M30.8,-20.7Q36.1,-77.3 40.6,-127.9M37.6,2.7Q43.1,3.7 47.3,5.1M57.1,3.1Q54.6,7.1 52.3,10.9M47.3,5.1Q50.7,8.7 52.3,10.9M64.2,10.7Q57.2,13.4 53.3,16.4M52.3,10.9Q52.5,13.7 53.3,16.4M53.9,19.2Q52.6,19.4 53.2,16.6M53.2,16.6Q55.2,18.8 53.3,16.4M26.2,15.6Q29.8,15.2 27.6,10.3M26.2,15.6Q26.1,16.6 27.4,19.5M27.6,10.3Q31.8,12.9 37.3,13.8M27.4,19.5Q29.9,22.5 32.9,22.5M32.9,22.5Q37.8,18.2 37.7,15.3M37.7,15.3Q39.0,13.9 37.3,13.8M26.1,6.6Q25.0,6.6 27.6,10.3M26.1,6.6Q24.9,4.0 24.6,7.0M22.6,13.7Q24.4,12.6 24.6,7.0M22.6,13.7Q22.7,14.2 26.2,15.6M19.6,21.0Q25.8,20.8 27.4,19.5M19.6,21.0Q18.8,16.9 17.4,13.6M22.6,13.7Q21.5,14.1 17.4,13.6M33.1,-4.1Q28.0,-2.4 26.1,6.6M37.6,2.7Q33.4,9.2 37.3,13.8M18.3,31.4Q25.4,31.3 33.3,26.8M18.0,23.2Q19.5,20.2 19.6,21.0M33.5,26.2Q33.9,28.3 33.3,26.8M33.5,26.2Q31.9,23.6 32.9,22.5M39.3,26.9Q39.1,23.9 33.5,26.2M53.2,16.6Q43.8,17.5 37.7,15.3M40.4,45.4Q37.6,39.3 34.2,36.7M40.4,45.4Q29.0,47.2 22.0,47.7M22.0,47.7Q26.7,43.9 27.8,37.7M34.2,36.7Q31.6,39.5 27.8,37.7M51.7,52.3Q46.5,47.6 40.4,45.4M33.3,26.8Q36.8,29.9 34.2,36.7M21.2,48.0Q21.4,47.7 22.0,47.7M17.8,33.6Q25.0,34.5 27.8,37.7M22.4,7.2Q18.5,6.5 15.4,11.2M22.4,7.2Q20.2,4.0 17.0,-0.6M15.4,11.2Q12.2,8.5 7.1,8.7M17.0,-0.6Q12.6,1.5 7.6,6.2M7.1,8.7Q6.6,7.3 7.6,6.2M17.4,13.6Q18.3,11.7 15.4,11.2M24.6,7.0Q23.8,5.8 22.4,7.2M30.8,-20.7Q23.0,-11.7 17.0,-0.6M5.1,10.5Q5.8,10.7 7.1,8.7M7.0,4.3Q5.7,6.3 7.6,6.2" fill="none" stroke="#d4b0ec" stroke-width="0.45" opacity="0.5"/>
<path d="M26,24 Q35,20 46,18" fill="none" stroke="#e080d8" stroke-width="3.5" stroke-linecap="round" opacity="0.5" filter="url(#bl2)"/>
<path d="M40,16 L46,26" fill="none" stroke="#e080d8" stroke-width="3" stroke-linecap="round" opacity="0.45" filter="url(#bl2)"/>
<path d="M36,1 Q20,4 9,15 Q3,24 1,28" fill="none" stroke="#f0d0f8" stroke-width="0.8" stroke-linecap="round" opacity="0.95"/>
<path d="M0,30 L5,30" fill="none" stroke="#ffffff" stroke-width="1.2" stroke-linecap="round" opacity="0.95"/>
<path d="M0,40 L4,40" fill="none" stroke="#ffffff" stroke-width="1.2" stroke-linecap="round" opacity="0.95"/>
<path d="M63,0 Q62,15 60,28 Q55,36 45,40 Q38,44 40,50" fill="none" stroke="#f8e8f8" stroke-width="0.8" stroke-linecap="round" opacity="0.95"/>
<path d="M66,16 Q61,26 66,36" fill="none" stroke="#fff" stroke-width="0.8" stroke-linecap="round" opacity="0.95"/>
<path d="M40,40 Q50,46 58,49" fill="none" stroke="#f0d0f8" stroke-width="0.6" stroke-linecap="round" opacity="0.95"/>
<rect x="55.55" y="46.599999999999994" width="8.6" height="1.3" fill="#111"/>
</g></g>
<g clip-path="url(#hc9)"><g transform="translate(151.7,433.5)">
<rect width="66.1" height="49.4" fill="#a25ed0" filter="url(#tx9)"/>
<path d="M75.3,39.2Q75.9,33.9 73.8,32.1M8.3,0.9Q9.5,1.9 8.9,2.0M8.9,2.0Q17.2,-1.7 26.8,-11.3M75.3,39.2Q72.9,38.9 73.9,39.4M66.0,57.2Q66.7,57.6 66.0,57.2M73.9,39.4Q69.7,50.3 66.0,57.2M66.0,57.2Q60.8,53.7 51.4,47.3M48.0,48.4Q50.0,47.8 48.9,47.4M48.9,47.4Q48.4,50.7 51.4,47.3M46.5,16.3Q51.0,11.6 58.3,0.3M46.5,16.3Q49.4,16.6 52.7,16.3M52.7,16.3Q57.9,12.7 63.7,6.1M63.7,6.1Q62.3,5.8 62.5,0.0M62.5,0.0Q61.2,0.4 58.3,0.3M91.6,8.9Q78.5,12.2 67.2,14.7M91.6,8.9Q79.0,11.1 66.5,7.7M66.5,7.7Q67.8,8.4 66.3,13.8M67.2,14.7Q69.0,10.7 66.3,13.8M114.9,8.2Q105.6,5.7 91.6,8.9M63.7,6.1Q65.1,8.1 66.5,7.7M53.4,16.6Q59.8,13.6 66.3,13.8M53.4,16.6Q54.9,13.8 52.7,16.3M10.8,38.6Q14.0,38.7 21.5,34.7M10.8,38.6Q17.8,45.2 27.4,51.1M21.5,34.7Q25.9,38.2 27.8,42.0M27.8,42.0Q28.9,43.4 29.2,44.4M29.2,44.4Q29.1,48.4 28.4,48.9M27.4,51.1Q29.3,50.5 28.4,48.9M19.7,22.4Q22.0,27.8 21.5,34.7M19.7,22.4Q14.1,25.9 10.8,32.4M10.8,32.4Q11.5,37.9 9.8,38.5M9.8,38.5Q10.4,35.6 10.8,38.6M9.8,38.5Q7.7,40.0 7.2,40.1M7.2,40.1Q9.8,71.9 11.5,103.5M11.5,103.5Q20.9,78.7 27.4,51.1M31.2,20.2Q23.7,19.8 20.3,18.2M31.2,20.2Q28.4,31.4 27.8,42.0M20.3,18.2Q21.8,23.1 19.7,22.4M42.7,20.5Q38.0,19.6 31.2,20.2M42.7,20.5Q42.9,25.3 44.1,28.6M44.1,28.6Q41.7,30.8 42.2,33.1M42.2,33.1Q36.6,40.1 29.2,44.4M48.0,48.4Q37.8,49.2 28.4,48.9M42.2,33.1Q47.6,40.7 48.9,47.4M16.5,14.0Q21.5,6.7 31.7,-1.3M16.5,14.0Q14.4,12.3 11.5,11.9M8.9,2.0Q9.5,4.2 10.0,10.8M31.7,-1.3Q31.1,-5.7 26.8,-11.3M11.5,11.9Q9.9,11.7 10.0,10.8M16.5,14.0Q18.6,14.8 20.3,18.2M10.8,32.4Q3.9,25.9 5.1,27.9M11.5,11.9Q11.3,18.3 5.1,27.9M53.7,-1.8Q54.2,-21.1 55.5,-42.2M53.7,-1.8Q47.4,2.4 42.1,3.1M55.5,-42.2Q47.0,-19.2 41.4,2.0M42.1,3.1Q38.6,3.6 41.4,2.0M58.3,0.3Q57.0,-0.2 53.7,-1.8M45.8,16.4Q44.4,10.1 42.1,3.1M45.8,16.4Q47.4,17.8 46.5,16.3M31.7,-1.3Q35.1,2.0 41.4,2.0M42.7,20.5Q42.8,18.7 45.8,16.4M66.0,57.2Q64.2,50.4 63.2,42.1M51.4,47.3Q53.5,44.0 56.6,39.5M63.2,42.1Q59.2,39.4 56.6,39.5M44.1,28.6Q51.1,32.2 54.9,34.1M54.9,34.1Q56.5,38.2 56.6,39.5M-14.3,15.6Q-13.7,17.0 -10.0,15.7M-14.3,15.6Q-9.9,27.2 -2.3,37.6M-10.0,15.7Q-4.8,23.9 1.0,31.3M1.0,31.3Q1.5,34.1 -0.1,36.8M-2.3,37.6Q-2.6,38.6 -0.1,36.8M10.0,10.8Q1.8,14.3 -10.0,15.7M-3.2,38.1Q-1.2,35.2 -2.3,37.6M5.1,27.9Q3.1,29.4 1.0,31.3M7.2,40.1Q0.6,38.6 -0.1,36.8M70.0,37.7Q67.9,36.1 65.8,39.0M70.0,37.7Q68.0,32.6 68.6,27.2M65.8,39.0Q64.5,36.2 61.4,31.2M61.4,31.2Q62.1,26.5 66.1,25.1M66.1,25.1Q65.9,25.0 67.2,25.0M68.6,27.2Q67.4,25.9 68.0,25.2M68.0,25.2Q68.6,26.1 67.2,25.0M73.9,39.4Q72.1,36.8 70.0,37.7M63.2,42.1Q63.8,41.4 65.8,39.0M73.8,32.1Q72.5,31.2 68.6,27.2M54.9,34.1Q56.6,32.0 61.4,31.2M53.4,16.6Q57.9,16.5 66.1,25.1M67.2,14.7Q65.6,17.2 67.2,25.0M114.9,8.2Q93.5,17.4 68.0,25.2" fill="none" stroke="#d4b0ec" stroke-width="0.45" opacity="0.5"/>
<path d="M16,5 Q22,15 28,25 Q34,35 33,49" fill="none" stroke="#e080d8" stroke-width="3.5" stroke-linecap="round" opacity="0.5" filter="url(#bl2)"/>
<path d="M30,22 Q42,18 55,23" fill="none" stroke="#e080d8" stroke-width="3" stroke-linecap="round" opacity="0.55" filter="url(#bl2)"/>
<path d="M6,10 Q3,25 7,50" fill="none" stroke="#f4e0f8" stroke-width="0.7" stroke-linecap="round" opacity="0.95"/>
<path d="M11,16 Q13,30 15,46" fill="none" stroke="#f0d0f8" stroke-width="0.5" stroke-linecap="round" opacity="0.95"/>
<path d="M24,0 Q30,10 35,18 Q42,30 45,50" fill="none" stroke="#f4e0f8" stroke-width="0.7" stroke-linecap="round" opacity="0.95"/>
<path d="M30,22 Q40,19 55,23" fill="none" stroke="#ffffff" stroke-width="0.6" stroke-linecap="round" opacity="0.95"/>
<path d="M60,45 L66,40" fill="none" stroke="#ffffff" stroke-width="0.7" stroke-linecap="round" opacity="0.95"/>
<circle cx="18" cy="6" r="1.0" fill="#fff"/>
<circle cx="21" cy="12" r="0.9" fill="#fff"/>
<circle cx="26" cy="18" r="0.8" fill="#fff"/>
<circle cx="34" cy="26" r="1.0" fill="#fff"/>
<rect x="55.099999999999994" y="46.599999999999994" width="8.6" height="1.3" fill="#111"/>
</g></g>
<g clip-path="url(#hc10)"><g transform="translate(15.6,486.1)">
<rect width="66.4" height="49.7" fill="#c62c58" filter="url(#tx10)"/>
<path d="M68.4,52.7Q68.5,46.2 65.7,37.8M68.4,52.7Q53.4,67.9 39.0,88.6M65.7,37.8Q50.7,44.3 35.2,51.3M35.2,51.3Q37.3,72.3 39.0,88.6M48.1,-12.9Q54.5,0.5 60.3,13.1M60.3,13.1Q86.7,13.0 111.4,13.6M65.7,37.8Q64.9,36.5 66.2,37.3M111.4,13.6Q89.9,26.2 66.2,37.3M60.3,13.1Q54.1,18.0 49.3,19.4M66.2,37.3Q57.9,26.6 49.0,19.9M49.0,19.9Q50.1,19.4 49.3,19.4M48.1,-12.9Q43.2,-4.8 42.3,1.8M49.3,19.4Q45.3,10.1 42.3,1.8M35.2,51.3Q33.2,42.0 29.4,39.3M29.4,39.3Q16.1,43.0 6.7,48.0M35.6,29.0Q34.6,17.0 32.8,7.0M35.6,29.0Q30.9,31.8 29.1,37.8M29.1,37.8Q27.7,37.8 26.6,35.8M26.6,35.8Q21.7,14.5 21.1,-0.6M21.1,-0.6Q26.5,2.6 32.8,7.0M49.0,19.9Q41.0,25.3 35.6,29.0M42.3,1.8Q38.7,3.6 32.8,7.0M29.4,39.3Q28.7,39.4 29.1,37.8" fill="none" stroke="#f4d8e0" stroke-width="0.5" opacity="0.4"/>
<path d="M22,0 Q12,10 6,24 Q2,36 0,48 L4,48 Q5,36 9,25 Q15,12 25,1 Z" fill="#7462b6" stroke="#40309a" stroke-width="0.6" opacity="0.8"/>
<path d="M26,31.5 Q36,23 48,17.5 Q57,13.5 67,12.5 L67,20 Q58,21 50,24.5 Q40,29 26,31.5 Z" fill="#7462b6" stroke="#40309a" stroke-width="0.6" opacity="0.8"/>
<path d="M20,3 Q12,13 8,23" fill="none" stroke="#ffffff" stroke-width="1.3" stroke-linecap="round" opacity="0.95"/>
<path d="M6,28 Q4,35 3.5,42" fill="none" stroke="#ffffff" stroke-width="1.1" stroke-linecap="round" opacity="0.95"/>
<path d="M4,31 Q25,20 49,2.5" fill="none" stroke="#ffffff" stroke-width="0.8" stroke-linecap="round" opacity="0.95"/>
<path d="M40,26.5 Q47,22.5 55,19.5" fill="none" stroke="#ffffff" stroke-width="1.5" stroke-linecap="round" opacity="0.95"/>
<path d="M44,25.5 Q52,22 61,19.2" fill="none" stroke="#ffffff" stroke-width="1.0" stroke-linecap="round" opacity="0.95"/>
<path d="M52,18.5 Q58,16.5 64,16" fill="none" stroke="#ffffff" stroke-width="0.8" stroke-linecap="round" opacity="0.95"/>
<path d="M37,50 L42,40" fill="none" stroke="#ffffff" stroke-width="1.5" stroke-linecap="round" opacity="0.95"/>
<path d="M46,5 L50.5,10" fill="none" stroke="#ffffff" stroke-width="1.0" stroke-linecap="round" opacity="0.95"/>
<path d="M58,40 L60,50" fill="none" stroke="#ffffff" stroke-width="1.2" stroke-linecap="round" opacity="0.95"/>
<circle cx="37.4" cy="28.0" r="1.6" fill="#fff"/>
<circle cx="15" cy="14" r="0.8" fill="#fff"/>
<rect x="55.400000000000006" y="46.9" width="8.6" height="1.3" fill="#111"/>
</g></g>
<g clip-path="url(#hc11)"><g transform="translate(83.5,486.1)">
<rect width="66.55" height="49.7" fill="#d84c7a" filter="url(#tx11)"/>
<path d="M68.2,73.8Q49.5,56.1 35.2,38.2M35.2,38.2Q30.5,37.4 23.1,37.3M23.1,37.3Q23.1,59.8 25.3,81.2M-16.6,43.2Q-2.5,50.4 9.4,58.5M-16.6,43.2Q-4.0,39.1 7.0,31.8M7.0,31.8Q7.9,43.9 9.4,58.5M9.4,58.5Q17.9,70.2 25.3,81.2M-33.2,2.7Q-7.2,0.2 15.5,1.6M-33.2,2.7Q-14.2,9.6 6.8,19.0M6.8,19.0Q8.5,10.5 15.5,1.6M7.0,31.8Q9.4,28.9 10.3,28.3M6.8,19.0Q10.6,24.9 10.3,28.3M15.5,1.6Q22.1,-5.6 26.7,-14.0M23.1,37.3Q22.0,31.8 18.1,30.3M10.3,28.3Q15.1,30.2 18.1,30.3M68.2,73.8Q63.9,68.4 65.0,61.9M76.8,-1.5Q70.5,31.4 65.0,61.9M41.0,30.0Q47.9,30.9 56.0,32.0M41.0,30.0Q37.4,23.4 32.8,19.5M32.8,19.5Q35.0,16.1 35.4,13.0M35.4,13.0Q47.7,14.6 58.5,17.7M58.5,17.7Q58.9,25.8 56.0,32.0M35.2,38.2Q37.8,35.0 41.0,30.0M65.0,61.9Q62.4,49.6 56.0,32.0M18.1,30.3Q23.1,26.2 32.8,19.5M26.7,-14.0Q31.8,-0.6 35.4,13.0M76.8,-1.5Q66.1,10.0 58.5,17.7" fill="none" stroke="#f4d8e0" stroke-width="0.5" opacity="0.4"/>
<path d="M22,24.5 L25,23 L28,22.5 L31,23.5 L34,23 L37,24.5 L40,25 L43,26.5 L46,26 L49,27" fill="none" stroke="#3424a8" stroke-width="2.0" stroke-linejoin="miter" opacity="0.95"/>
<path d="M28,21 L30,23 L32,25" fill="none" stroke="#301c80" stroke-width="1.4" stroke-linejoin="miter" opacity="0.95"/>
<path d="M33,26 L38,26.5" fill="none" stroke="#4a3ab0" stroke-width="1.0" stroke-linejoin="miter" opacity="0.95"/>
<path d="M0,14.9 Q5,16 9.9,15.9 Q15,15.5 19.4,14.9 Q21,14 23.2,13" fill="none" stroke="#ffffff" stroke-width="1.1" stroke-linecap="round" opacity="0.95"/>
<path d="M19.4,1 Q14,9 9.9,15.9" fill="none" stroke="#ffffff" stroke-width="0.9" stroke-linecap="round" opacity="0.95"/>
<path d="M34,-0.5 Q28,6 23.2,13" fill="none" stroke="#ffffff" stroke-width="0.9" stroke-linecap="round" opacity="0.95"/>
<path d="M23.2,13 Q36,13 51.8,12.1 Q58,11 66,10" fill="none" stroke="#ffffff" stroke-width="1.4" stroke-linecap="round" opacity="0.95"/>
<path d="M50,11.5 Q58,9 66,7.5" fill="none" stroke="#ffffff" stroke-width="0.8" stroke-linecap="round" opacity="0.95"/>
<circle cx="30" cy="24" r="0.5" fill="#c8b8f0"/>
<circle cx="38" cy="25.2" r="0.4" fill="#c8b8f0"/>
<rect x="55.55" y="46.9" width="8.6" height="1.3" fill="#111"/>
</g></g>
<g clip-path="url(#hc12)"><g transform="translate(151.7,486.1)">
<rect width="66.1" height="49.7" fill="#ce3a64" filter="url(#tx12)"/>
<path d="M-171.9,51.5Q-93.5,32.1 -17.5,17.6M-17.5,17.6Q-10.1,13.1 -5.1,10.5M-5.1,10.5Q-1.9,9.2 2.9,11.9M88.9,-148.1Q50.4,-69.0 12.4,10.9M12.4,10.9Q8.0,10.6 2.9,11.9M88.9,-148.1Q68.2,-66.5 47.2,9.6M47.2,9.6Q39.7,16.6 31.0,25.2M12.4,10.9Q23.1,17.9 31.0,25.2M47.2,9.6Q56.3,23.4 63.6,35.4M77.9,39.1Q70.2,34.4 63.6,35.4M2.9,11.9Q10.1,24.2 18.3,34.8M31.0,25.2Q28.1,30.6 26.4,34.6M26.4,34.6Q23.8,33.9 18.3,34.8M-17.5,17.6Q0.4,29.0 14.5,35.6M14.5,35.6Q18.1,36.9 18.3,34.8M77.9,39.1Q66.8,56.7 52.3,67.5M63.6,35.4Q57.0,43.0 49.9,50.6M49.9,50.6Q52.0,57.7 52.3,67.5M26.4,34.6Q24.5,34.6 27.4,37.1M49.9,50.6Q39.2,44.6 27.4,37.1M19.6,125.5Q17.8,96.6 20.7,73.2M19.6,125.5Q9.5,85.3 0.3,45.6M20.7,73.2Q12.3,59.8 4.0,44.4M0.3,45.6Q4.0,45.3 4.0,44.4M27.4,37.1Q24.9,53.6 20.7,73.2M-171.9,51.5Q-87.5,48.9 0.3,45.6M14.5,35.6Q10.3,41.1 4.0,44.4" fill="none" stroke="#f4d8e0" stroke-width="0.5" opacity="0.4"/>
<path d="M7,8.6 Q20,14 32.5,21.8 Q38,27 42.1,32.5 Q49,40 56,46.5 L54.8,48 Q47,43 40.5,35.5 Q35,29 31,24.5 Q20,16.5 7,10 Z" fill="#7462b6" stroke="#40309a" stroke-width="0.6" opacity="0.8"/>
<path d="M16,42.3 Q30,41.5 47.8,44.8 L47.8,45.9 Q30,43 16,43.4 Z" fill="#7462b6" stroke="#40309a" stroke-width="0.6" opacity="0.8"/>
<path d="M8,9.3 L14,12 L20,15 L26,18.5 L32.5,22.6 L37,27 L42.1,34 L48,40 L55.4,47.4" fill="none" stroke="#2e1e90" stroke-width="1.0" stroke-linejoin="miter" opacity="0.95"/>
<path d="M32.5,24.8 Q38,29 42,35 Q47,40 51.6,43.6" fill="none" stroke="#ffffff" stroke-width="1.1" stroke-linecap="round" opacity="0.95"/>
<path d="M27.8,9.3 L32.5,13.1" fill="none" stroke="#ffffff" stroke-width="0.9" stroke-linecap="round" opacity="0.95"/>
<path d="M53.5,1.7 Q60,10 59.2,16.9 Q57,20 57.3,24.5 Q58.5,30 59.2,35.9 Q60,40 61.1,44.5" fill="none" stroke="#ffffff" stroke-width="1.1" stroke-linecap="round" opacity="0.95"/>
<path d="M33,24 L36,22" fill="none" stroke="#ffffff" stroke-width="0.7" stroke-linecap="round" opacity="0.95"/>
<path d="M20,44 L24,44.3" fill="none" stroke="#ffffff" stroke-width="0.8" stroke-linecap="round" opacity="0.95"/>
<circle cx="62" cy="10" r="0.8" fill="#4a3aa0"/>
<circle cx="63.5" cy="11.5" r="0.6" fill="#4a3aa0"/>
<rect x="55.099999999999994" y="46.9" width="8.6" height="1.3" fill="#111"/>
</g></g>
<text x="3.8" y="298.8" font-size="9.6" text-anchor="start" fill="#000" textLength="10" lengthAdjust="spacingAndGlyphs" >B.</text>
<text x="3.4" y="430.8" font-size="9.6" text-anchor="start" fill="#000" textLength="10.5" lengthAdjust="spacingAndGlyphs" >C.</text>
<text x="49.7" y="300.5" font-size="7.3" text-anchor="middle" fill="#000" textLength="8.2" lengthAdjust="spacingAndGlyphs" >IR</text>
<text x="117.4" y="300.5" font-size="7.3" text-anchor="middle" fill="#000" textLength="24.8" lengthAdjust="spacingAndGlyphs" >E-MNC</text>
<text x="186.0" y="300.5" font-size="7.3" text-anchor="middle" fill="#000" textLength="20.3" lengthAdjust="spacingAndGlyphs" >11b(-)</text>
<text x="49.7" y="431.6" font-size="7.3" text-anchor="middle" fill="#000" textLength="8.2" lengthAdjust="spacingAndGlyphs" >IR</text>
<text x="117.4" y="431.6" font-size="7.3" text-anchor="middle" fill="#000" textLength="24.8" lengthAdjust="spacingAndGlyphs" >E-MNC</text>
<text x="186.0" y="431.6" font-size="7.3" text-anchor="middle" fill="#000" textLength="20.3" lengthAdjust="spacingAndGlyphs" >11b(-)</text>
<g transform="translate(10.6,352.7) rotate(-90)">
<text x="0" y="0" font-size="10.0" text-anchor="middle" fill="#000" textLength="32.2" lengthAdjust="spacingAndGlyphs" >9 weeks</text>
</g>
<g transform="translate(10.8,483.4) rotate(-90)">
<text x="0" y="0" font-size="10.0" text-anchor="middle" fill="#000" textLength="36.1" lengthAdjust="spacingAndGlyphs" >13 weeks</text>
</g>
</svg>
</body></html>
